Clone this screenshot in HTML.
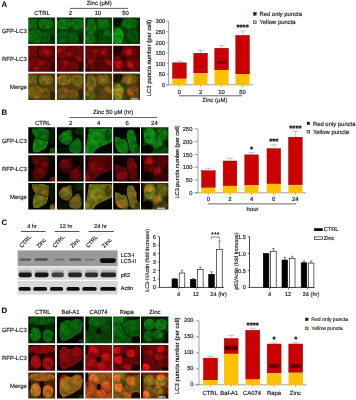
<!DOCTYPE html>
<html><head><meta charset="utf-8"><title>Figure</title>
<style>html,body{margin:0;padding:0;background:#fff;width:356px;height:400px;overflow:hidden}svg{display:block}</style>
</head><body>
<svg width="356" height="400" viewBox="0 0 356 400" font-family="'Liberation Sans', Arial, sans-serif" text-rendering="geometricPrecision"><defs><filter id="t1" x="-20%" y="-20%" width="140%" height="140%" color-interpolation-filters="sRGB"><feGaussianBlur in="SourceGraphic" stdDeviation="0.7" result="b"/><feTurbulence type="fractalNoise" baseFrequency="0.22" numOctaves="2" seed="7" result="n"/><feColorMatrix in="n" type="matrix" values="1 0 0 0 0 1 0 0 0 0 1 0 0 0 0 0 0 0 0 1" result="g"/><feComposite in="b" in2="g" operator="arithmetic" k1="0.7" k2="0.65" k3="0" k4="0"/></filter><filter id="t2" x="-20%" y="-20%" width="140%" height="140%" color-interpolation-filters="sRGB"><feGaussianBlur in="SourceGraphic" stdDeviation="0.7" result="b"/><feTurbulence type="fractalNoise" baseFrequency="0.22" numOctaves="2" seed="14" result="n"/><feColorMatrix in="n" type="matrix" values="1 0 0 0 0 1 0 0 0 0 1 0 0 0 0 0 0 0 0 1" result="g"/><feComposite in="b" in2="g" operator="arithmetic" k1="0.7" k2="0.65" k3="0" k4="0"/></filter><filter id="t3" x="-20%" y="-20%" width="140%" height="140%" color-interpolation-filters="sRGB"><feGaussianBlur in="SourceGraphic" stdDeviation="0.7" result="b"/><feTurbulence type="fractalNoise" baseFrequency="0.22" numOctaves="2" seed="21" result="n"/><feColorMatrix in="n" type="matrix" values="1 0 0 0 0 1 0 0 0 0 1 0 0 0 0 0 0 0 0 1" result="g"/><feComposite in="b" in2="g" operator="arithmetic" k1="0.7" k2="0.65" k3="0" k4="0"/></filter><filter id="t4" x="-20%" y="-20%" width="140%" height="140%" color-interpolation-filters="sRGB"><feGaussianBlur in="SourceGraphic" stdDeviation="0.7" result="b"/><feTurbulence type="fractalNoise" baseFrequency="0.22" numOctaves="2" seed="28" result="n"/><feColorMatrix in="n" type="matrix" values="1 0 0 0 0 1 0 0 0 0 1 0 0 0 0 0 0 0 0 1" result="g"/><feComposite in="b" in2="g" operator="arithmetic" k1="0.7" k2="0.65" k3="0" k4="0"/></filter><filter id="t5" x="-20%" y="-20%" width="140%" height="140%" color-interpolation-filters="sRGB"><feGaussianBlur in="SourceGraphic" stdDeviation="0.7" result="b"/><feTurbulence type="fractalNoise" baseFrequency="0.22" numOctaves="2" seed="35" result="n"/><feColorMatrix in="n" type="matrix" values="1 0 0 0 0 1 0 0 0 0 1 0 0 0 0 0 0 0 0 1" result="g"/><feComposite in="b" in2="g" operator="arithmetic" k1="0.7" k2="0.65" k3="0" k4="0"/></filter><filter id="t6" x="-20%" y="-20%" width="140%" height="140%" color-interpolation-filters="sRGB"><feGaussianBlur in="SourceGraphic" stdDeviation="0.7" result="b"/><feTurbulence type="fractalNoise" baseFrequency="0.22" numOctaves="2" seed="42" result="n"/><feColorMatrix in="n" type="matrix" values="1 0 0 0 0 1 0 0 0 0 1 0 0 0 0 0 0 0 0 1" result="g"/><feComposite in="b" in2="g" operator="arithmetic" k1="0.7" k2="0.65" k3="0" k4="0"/></filter><filter id="t7" x="-20%" y="-20%" width="140%" height="140%" color-interpolation-filters="sRGB"><feGaussianBlur in="SourceGraphic" stdDeviation="0.7" result="b"/><feTurbulence type="fractalNoise" baseFrequency="0.22" numOctaves="2" seed="49" result="n"/><feColorMatrix in="n" type="matrix" values="1 0 0 0 0 1 0 0 0 0 1 0 0 0 0 0 0 0 0 1" result="g"/><feComposite in="b" in2="g" operator="arithmetic" k1="0.7" k2="0.65" k3="0" k4="0"/></filter><filter id="t8" x="-20%" y="-20%" width="140%" height="140%" color-interpolation-filters="sRGB"><feGaussianBlur in="SourceGraphic" stdDeviation="0.7" result="b"/><feTurbulence type="fractalNoise" baseFrequency="0.22" numOctaves="2" seed="56" result="n"/><feColorMatrix in="n" type="matrix" values="1 0 0 0 0 1 0 0 0 0 1 0 0 0 0 0 0 0 0 1" result="g"/><feComposite in="b" in2="g" operator="arithmetic" k1="0.7" k2="0.65" k3="0" k4="0"/></filter><filter id="t9" x="-20%" y="-20%" width="140%" height="140%" color-interpolation-filters="sRGB"><feGaussianBlur in="SourceGraphic" stdDeviation="0.7" result="b"/><feTurbulence type="fractalNoise" baseFrequency="0.22" numOctaves="2" seed="63" result="n"/><feColorMatrix in="n" type="matrix" values="1 0 0 0 0 1 0 0 0 0 1 0 0 0 0 0 0 0 0 1" result="g"/><feComposite in="b" in2="g" operator="arithmetic" k1="0.7" k2="0.65" k3="0" k4="0"/></filter><filter id="t10" x="-20%" y="-20%" width="140%" height="140%" color-interpolation-filters="sRGB"><feGaussianBlur in="SourceGraphic" stdDeviation="0.7" result="b"/><feTurbulence type="fractalNoise" baseFrequency="0.22" numOctaves="2" seed="70" result="n"/><feColorMatrix in="n" type="matrix" values="1 0 0 0 0 1 0 0 0 0 1 0 0 0 0 0 0 0 0 1" result="g"/><feComposite in="b" in2="g" operator="arithmetic" k1="0.7" k2="0.65" k3="0" k4="0"/></filter><filter id="t11" x="-20%" y="-20%" width="140%" height="140%" color-interpolation-filters="sRGB"><feGaussianBlur in="SourceGraphic" stdDeviation="0.7" result="b"/><feTurbulence type="fractalNoise" baseFrequency="0.22" numOctaves="2" seed="77" result="n"/><feColorMatrix in="n" type="matrix" values="1 0 0 0 0 1 0 0 0 0 1 0 0 0 0 0 0 0 0 1" result="g"/><feComposite in="b" in2="g" operator="arithmetic" k1="0.7" k2="0.65" k3="0" k4="0"/></filter><filter id="t12" x="-20%" y="-20%" width="140%" height="140%" color-interpolation-filters="sRGB"><feGaussianBlur in="SourceGraphic" stdDeviation="0.7" result="b"/><feTurbulence type="fractalNoise" baseFrequency="0.22" numOctaves="2" seed="84" result="n"/><feColorMatrix in="n" type="matrix" values="1 0 0 0 0 1 0 0 0 0 1 0 0 0 0 0 0 0 0 1" result="g"/><feComposite in="b" in2="g" operator="arithmetic" k1="0.7" k2="0.65" k3="0" k4="0"/></filter><filter id="t13" x="-20%" y="-20%" width="140%" height="140%" color-interpolation-filters="sRGB"><feGaussianBlur in="SourceGraphic" stdDeviation="0.7" result="b"/><feTurbulence type="fractalNoise" baseFrequency="0.22" numOctaves="2" seed="91" result="n"/><feColorMatrix in="n" type="matrix" values="1 0 0 0 0 1 0 0 0 0 1 0 0 0 0 0 0 0 0 1" result="g"/><feComposite in="b" in2="g" operator="arithmetic" k1="0.7" k2="0.65" k3="0" k4="0"/></filter><filter id="t14" x="-20%" y="-20%" width="140%" height="140%" color-interpolation-filters="sRGB"><feGaussianBlur in="SourceGraphic" stdDeviation="0.7" result="b"/><feTurbulence type="fractalNoise" baseFrequency="0.22" numOctaves="2" seed="98" result="n"/><feColorMatrix in="n" type="matrix" values="1 0 0 0 0 1 0 0 0 0 1 0 0 0 0 0 0 0 0 1" result="g"/><feComposite in="b" in2="g" operator="arithmetic" k1="0.7" k2="0.65" k3="0" k4="0"/></filter><clipPath id="c1"><rect width="26.80" height="26.50"/></clipPath><clipPath id="c2"><rect width="26.80" height="26.50"/></clipPath><clipPath id="c3"><rect width="26.80" height="26.50"/></clipPath><clipPath id="c4"><rect width="26.80" height="26.50"/></clipPath><clipPath id="c5"><rect width="26.80" height="25.90"/></clipPath><clipPath id="c6"><rect width="26.80" height="25.90"/></clipPath><clipPath id="c7"><rect width="26.80" height="25.90"/></clipPath><clipPath id="c8"><rect width="26.80" height="25.90"/></clipPath><clipPath id="c9"><rect width="26.80" height="26.50"/></clipPath><clipPath id="c10"><rect width="26.80" height="26.50"/></clipPath><clipPath id="c11"><rect width="26.80" height="26.50"/></clipPath><clipPath id="c12"><rect width="26.80" height="26.50"/></clipPath><clipPath id="c13"><rect width="26.80" height="26.30"/></clipPath><clipPath id="c14"><rect width="26.80" height="26.30"/></clipPath><clipPath id="c15"><rect width="26.80" height="26.30"/></clipPath><clipPath id="c16"><rect width="26.80" height="26.30"/></clipPath><clipPath id="c17"><rect width="27.40" height="26.30"/></clipPath><clipPath id="c18"><rect width="26.80" height="26.30"/></clipPath><clipPath id="c19"><rect width="26.80" height="26.30"/></clipPath><clipPath id="c20"><rect width="26.80" height="26.30"/></clipPath><clipPath id="c21"><rect width="26.80" height="26.30"/></clipPath><clipPath id="c22"><rect width="27.40" height="26.30"/></clipPath><clipPath id="c23"><rect width="26.80" height="26.40"/></clipPath><clipPath id="c24"><rect width="26.80" height="26.40"/></clipPath><clipPath id="c25"><rect width="26.80" height="26.40"/></clipPath><clipPath id="c26"><rect width="26.80" height="26.40"/></clipPath><clipPath id="c27"><rect width="27.40" height="26.40"/></clipPath><clipPath id="c28"><rect width="26.80" height="26.80"/></clipPath><clipPath id="c29"><rect width="26.80" height="26.80"/></clipPath><clipPath id="c30"><rect width="26.80" height="26.80"/></clipPath><clipPath id="c31"><rect width="26.80" height="26.80"/></clipPath><clipPath id="c32"><rect width="27.40" height="26.80"/></clipPath><clipPath id="c33"><rect width="26.80" height="25.80"/></clipPath><clipPath id="c34"><rect width="26.80" height="25.80"/></clipPath><clipPath id="c35"><rect width="26.80" height="25.80"/></clipPath><clipPath id="c36"><rect width="26.80" height="25.80"/></clipPath><clipPath id="c37"><rect width="27.40" height="25.80"/></clipPath><clipPath id="c38"><rect width="26.80" height="26.00"/></clipPath><clipPath id="c39"><rect width="26.80" height="26.00"/></clipPath><clipPath id="c40"><rect width="26.80" height="26.00"/></clipPath><clipPath id="c41"><rect width="26.80" height="26.00"/></clipPath><clipPath id="c42"><rect width="27.40" height="26.00"/></clipPath><filter id="bb" x="-30%" y="-100%" width="160%" height="300%"><feGaussianBlur stdDeviation="0.75"/></filter></defs><rect width="356" height="400" fill="#fff"/><text transform="translate(1.50,6.90) scale(0.7900)" font-size="10" text-anchor="start" fill="#000" font-weight="bold" >A</text>
<text transform="translate(1.50,114.80) scale(0.7900)" font-size="10" text-anchor="start" fill="#000" font-weight="bold" >B</text>
<text transform="translate(1.50,225.30) scale(0.7900)" font-size="10" text-anchor="start" fill="#000" font-weight="bold" >C</text>
<text transform="translate(1.50,312.70) scale(0.7900)" font-size="10" text-anchor="start" fill="#000" font-weight="bold" >D</text>
<g transform="translate(28.30,17.50)" clip-path="url(#c1)"><g filter="url(#t1)"><rect x="-4" y="-4" width="34.8" height="34.5" fill="rgb(7,65,9)"/><ellipse cx="4.5" cy="6" rx="4.95" ry="6.05" fill="rgb(10,97,13)"/><ellipse cx="17" cy="6" rx="7.7" ry="5.5" fill="rgb(11,105,14)"/><ellipse cx="7" cy="19" rx="7.7" ry="7.15" fill="rgb(10,99,13)"/><ellipse cx="17" cy="19.5" rx="4.95" ry="4.95" fill="rgb(9,86,12)"/><ellipse cx="24.5" cy="22" rx="2.5" ry="5" fill="rgb(4,40,5)"/><polyline points="10,2 9.5,8.5 11.5,11" fill="none" stroke="rgb(3,32,4)" stroke-width="1.1" stroke-linecap="round" stroke-linejoin="round"/><ellipse cx="13.5" cy="0.3" rx="13" ry="1.2" fill="rgb(3,32,4)"/></g></g>
<g transform="translate(56.90,17.50)" clip-path="url(#c2)"><g filter="url(#t2)"><rect x="-4" y="-4" width="34.8" height="34.5" fill="rgb(7,64,8)"/><ellipse cx="7" cy="6" rx="7.7" ry="6.05" fill="rgb(12,113,15)"/><ellipse cx="20.5" cy="6.5" rx="6.05" ry="6.05" fill="rgb(11,108,15)"/><ellipse cx="6" cy="19.5" rx="6.05" ry="6.05" fill="rgb(9,89,12)"/><ellipse cx="16" cy="20.5" rx="5.5" ry="5.5" fill="rgb(9,88,12)"/><ellipse cx="24.5" cy="20" rx="2.5" ry="6" fill="rgb(4,38,5)"/><ellipse cx="1" cy="1" rx="2.5" ry="2" fill="rgb(3,28,3)"/><ellipse cx="13.5" cy="0.3" rx="13" ry="1.2" fill="rgb(3,36,5)"/></g></g>
<g transform="translate(85.30,17.50)" clip-path="url(#c3)"><g filter="url(#t3)"><rect x="-4" y="-4" width="34.8" height="34.5" fill="rgb(7,64,8)"/><ellipse cx="5.5" cy="9" rx="5.5" ry="7.7" fill="rgb(11,108,15)"/><ellipse cx="18" cy="6" rx="6.6" ry="5.5" fill="rgb(11,105,14)"/><ellipse cx="22.5" cy="16" rx="4.4" ry="4.4" fill="rgb(10,96,13)"/><ellipse cx="5" cy="21.5" rx="4.95" ry="4.95" fill="rgb(11,104,14)"/><ellipse cx="17" cy="22" rx="5.5" ry="4.4" fill="rgb(8,76,10)"/><polyline points="12.3,13 12.8,19 12,26" fill="none" stroke="rgb(3,36,5)" stroke-width="1.0" stroke-linecap="round" stroke-linejoin="round"/><ellipse cx="0.5" cy="5" rx="1.5" ry="5" fill="rgb(3,28,3)"/><ellipse cx="13.5" cy="0.3" rx="13" ry="1.2" fill="rgb(3,36,5)"/></g></g>
<g transform="translate(113.20,17.50)" clip-path="url(#c4)"><g filter="url(#t4)"><rect x="-4" y="-4" width="34.8" height="34.5" fill="rgb(6,57,8)"/><ellipse cx="16" cy="6" rx="8.8" ry="4.95" fill="rgb(11,100,14)"/><ellipse cx="20" cy="19" rx="6.6" ry="7.15" fill="rgb(8,76,10)"/><ellipse cx="5" cy="18.5" rx="5.5" ry="8.8" fill="rgb(15,142,19)"/><ellipse cx="3.5" cy="3.5" rx="6" ry="5.5" fill="rgb(2,24,3)"/><ellipse cx="26.2" cy="14" rx="1.2" ry="10" fill="rgb(3,28,3)"/></g></g>
<g transform="translate(28.30,45.80)" clip-path="url(#c5)"><g filter="url(#t1)"><rect x="-4" y="-4" width="34.8" height="33.9" fill="rgb(80,5,7)"/><ellipse cx="4.5" cy="6" rx="4.95" ry="6.05" fill="rgb(110,7,9)"/><ellipse cx="17" cy="6" rx="7.7" ry="5.5" fill="rgb(114,8,10)"/><ellipse cx="7" cy="19" rx="7.7" ry="7.15" fill="rgb(112,7,10)"/><ellipse cx="17" cy="19.5" rx="4.95" ry="4.95" fill="rgb(103,7,9)"/><ellipse cx="24.5" cy="22" rx="2.5" ry="5" fill="rgb(52,3,4)"/><ellipse cx="18" cy="6" rx="3" ry="2.5" fill="rgb(158,11,14)"/><ellipse cx="12.4" cy="17.5" rx="3" ry="2.5" fill="rgb(149,10,13)"/><ellipse cx="7.7" cy="22.7" rx="2.5" ry="2" fill="rgb(145,10,13)"/><polyline points="10,2 9.5,8.5 11.5,11" fill="none" stroke="rgb(44,3,3)" stroke-width="1.1" stroke-linecap="round" stroke-linejoin="round"/></g></g>
<g transform="translate(56.90,45.80)" clip-path="url(#c6)"><g filter="url(#t2)"><rect x="-4" y="-4" width="34.8" height="33.9" fill="rgb(79,5,7)"/><ellipse cx="7" cy="6" rx="7.7" ry="6.05" fill="rgb(110,7,9)"/><ellipse cx="20.5" cy="6.5" rx="6.05" ry="6.05" fill="rgb(107,7,9)"/><ellipse cx="6" cy="19.5" rx="6.05" ry="6.05" fill="rgb(105,7,9)"/><ellipse cx="16" cy="20.5" rx="5.5" ry="5.5" fill="rgb(103,7,9)"/><ellipse cx="24.5" cy="20" rx="2.5" ry="6" fill="rgb(48,3,4)"/><ellipse cx="2.5" cy="5" rx="2.5" ry="2.5" fill="rgb(167,11,15)"/><ellipse cx="12" cy="8.4" rx="2.5" ry="2.5" fill="rgb(145,10,13)"/><ellipse cx="9.4" cy="18" rx="3" ry="3" fill="rgb(154,10,13)"/><ellipse cx="22.4" cy="12.6" rx="3" ry="3" fill="rgb(140,9,12)"/></g></g>
<g transform="translate(85.30,45.80)" clip-path="url(#c7)"><g filter="url(#t3)"><rect x="-4" y="-4" width="34.8" height="33.9" fill="rgb(77,5,6)"/><ellipse cx="5.5" cy="9" rx="5.5" ry="7.7" fill="rgb(103,7,9)"/><ellipse cx="18" cy="6" rx="6.6" ry="5.5" fill="rgb(103,7,9)"/><ellipse cx="22.5" cy="16" rx="4.4" ry="4.4" fill="rgb(103,7,9)"/><ellipse cx="5" cy="21.5" rx="4.95" ry="4.95" fill="rgb(101,7,9)"/><ellipse cx="17" cy="22" rx="5.5" ry="4.4" fill="rgb(92,6,8)"/><ellipse cx="10.3" cy="5.5" rx="2.5" ry="2.5" fill="rgb(158,11,14)"/><ellipse cx="17.9" cy="7" rx="2.5" ry="2.5" fill="rgb(151,10,13)"/><ellipse cx="24" cy="17.5" rx="2.5" ry="3" fill="rgb(165,11,14)"/><ellipse cx="5.5" cy="15.6" rx="3" ry="2.5" fill="rgb(136,9,12)"/><ellipse cx="2" cy="24.5" rx="3.5" ry="2.5" fill="rgb(48,3,4)"/></g></g>
<g transform="translate(113.20,45.80)" clip-path="url(#c8)"><g filter="url(#t4)"><rect x="-4" y="-4" width="34.8" height="33.9" fill="rgb(74,5,6)"/><ellipse cx="16" cy="6" rx="8.8" ry="4.95" fill="rgb(107,7,9)"/><ellipse cx="20" cy="19" rx="6.6" ry="7.15" fill="rgb(101,7,9)"/><ellipse cx="5" cy="18.5" rx="5.5" ry="8.8" fill="rgb(110,7,9)"/><ellipse cx="3.5" cy="3.5" rx="6" ry="5.5" fill="rgb(30,2,2)"/><ellipse cx="15.8" cy="6.3" rx="3.5" ry="3" fill="rgb(180,12,16)"/><ellipse cx="5.5" cy="18.6" rx="3.5" ry="3.5" fill="rgb(184,12,16)"/><ellipse cx="17.2" cy="18.6" rx="3.5" ry="3.5" fill="rgb(167,11,15)"/><ellipse cx="10" cy="12" rx="2.5" ry="2.5" fill="rgb(48,3,4)"/></g></g>
<g transform="translate(28.30,73.50)" clip-path="url(#c9)"><g style="isolation:isolate"><g filter="url(#t1)"><rect x="-4" y="-4" width="34.8" height="34.5" fill="rgb(6,57,8)"/><ellipse cx="4.5" cy="6" rx="4.95" ry="6.05" fill="rgb(9,85,12)"/><ellipse cx="17" cy="6" rx="7.7" ry="5.5" fill="rgb(10,92,13)"/><ellipse cx="7" cy="19" rx="7.7" ry="7.15" fill="rgb(9,87,12)"/><ellipse cx="17" cy="19.5" rx="4.95" ry="4.95" fill="rgb(8,76,10)"/><ellipse cx="24.5" cy="22" rx="2.5" ry="5" fill="rgb(3,35,4)"/><polyline points="10,2 9.5,8.5 11.5,11" fill="none" stroke="rgb(3,28,3)" stroke-width="1.1" stroke-linecap="round" stroke-linejoin="round"/><ellipse cx="13.5" cy="0.3" rx="13" ry="1.2" fill="rgb(3,28,3)"/></g><g filter="url(#t1)" style="mix-blend-mode:screen"><rect x="-4" y="-4" width="34.8" height="34.5" fill="rgb(74,5,6)"/><ellipse cx="4.5" cy="6" rx="4.95" ry="6.05" fill="rgb(101,7,9)"/><ellipse cx="17" cy="6" rx="7.7" ry="5.5" fill="rgb(105,7,9)"/><ellipse cx="7" cy="19" rx="7.7" ry="7.15" fill="rgb(103,7,9)"/><ellipse cx="17" cy="19.5" rx="4.95" ry="4.95" fill="rgb(95,6,8)"/><ellipse cx="24.5" cy="22" rx="2.5" ry="5" fill="rgb(48,3,4)"/><ellipse cx="18" cy="6" rx="3" ry="2.5" fill="rgb(145,10,13)"/><ellipse cx="12.4" cy="17.5" rx="3" ry="2.5" fill="rgb(137,9,12)"/><ellipse cx="7.7" cy="22.7" rx="2.5" ry="2" fill="rgb(133,9,12)"/><polyline points="10,2 9.5,8.5 11.5,11" fill="none" stroke="rgb(40,2,3)" stroke-width="1.1" stroke-linecap="round" stroke-linejoin="round"/></g></g></g>
<g transform="translate(56.90,73.50)" clip-path="url(#c10)"><g style="isolation:isolate"><g filter="url(#t2)"><rect x="-4" y="-4" width="34.8" height="34.5" fill="rgb(6,56,7)"/><ellipse cx="7" cy="6" rx="7.7" ry="6.05" fill="rgb(10,99,13)"/><ellipse cx="20.5" cy="6.5" rx="6.05" ry="6.05" fill="rgb(10,95,13)"/><ellipse cx="6" cy="19.5" rx="6.05" ry="6.05" fill="rgb(8,78,11)"/><ellipse cx="16" cy="20.5" rx="5.5" ry="5.5" fill="rgb(8,77,10)"/><ellipse cx="24.5" cy="20" rx="2.5" ry="6" fill="rgb(3,33,4)"/><ellipse cx="1" cy="1" rx="2.5" ry="2" fill="rgb(2,24,3)"/><ellipse cx="13.5" cy="0.3" rx="13" ry="1.2" fill="rgb(3,31,4)"/></g><g filter="url(#t2)" style="mix-blend-mode:screen"><rect x="-4" y="-4" width="34.8" height="34.5" fill="rgb(72,5,6)"/><ellipse cx="7" cy="6" rx="7.7" ry="6.05" fill="rgb(101,7,9)"/><ellipse cx="20.5" cy="6.5" rx="6.05" ry="6.05" fill="rgb(98,6,8)"/><ellipse cx="6" cy="19.5" rx="6.05" ry="6.05" fill="rgb(97,6,8)"/><ellipse cx="16" cy="20.5" rx="5.5" ry="5.5" fill="rgb(95,6,8)"/><ellipse cx="24.5" cy="20" rx="2.5" ry="6" fill="rgb(44,3,4)"/><ellipse cx="2.5" cy="5" rx="2.5" ry="2.5" fill="rgb(153,10,13)"/><ellipse cx="12" cy="8.4" rx="2.5" ry="2.5" fill="rgb(133,9,12)"/><ellipse cx="9.4" cy="18" rx="3" ry="3" fill="rgb(141,9,12)"/><ellipse cx="22.4" cy="12.6" rx="3" ry="3" fill="rgb(129,9,11)"/></g></g></g>
<g transform="translate(85.30,73.50)" clip-path="url(#c11)"><g style="isolation:isolate"><g filter="url(#t3)"><rect x="-4" y="-4" width="34.8" height="34.5" fill="rgb(6,56,7)"/><ellipse cx="5.5" cy="9" rx="5.5" ry="7.7" fill="rgb(10,95,13)"/><ellipse cx="18" cy="6" rx="6.6" ry="5.5" fill="rgb(10,92,13)"/><ellipse cx="22.5" cy="16" rx="4.4" ry="4.4" fill="rgb(9,84,11)"/><ellipse cx="5" cy="21.5" rx="4.95" ry="4.95" fill="rgb(10,91,12)"/><ellipse cx="17" cy="22" rx="5.5" ry="4.4" fill="rgb(7,67,9)"/><polyline points="12.3,13 12.8,19 12,26" fill="none" stroke="rgb(3,31,4)" stroke-width="1.0" stroke-linecap="round" stroke-linejoin="round"/><ellipse cx="0.5" cy="5" rx="1.5" ry="5" fill="rgb(2,24,3)"/><ellipse cx="13.5" cy="0.3" rx="13" ry="1.2" fill="rgb(3,31,4)"/></g><g filter="url(#t3)" style="mix-blend-mode:screen"><rect x="-4" y="-4" width="34.8" height="34.5" fill="rgb(71,4,6)"/><ellipse cx="5.5" cy="9" rx="5.5" ry="7.7" fill="rgb(95,6,8)"/><ellipse cx="18" cy="6" rx="6.6" ry="5.5" fill="rgb(95,6,8)"/><ellipse cx="22.5" cy="16" rx="4.4" ry="4.4" fill="rgb(95,6,8)"/><ellipse cx="5" cy="21.5" rx="4.95" ry="4.95" fill="rgb(93,6,8)"/><ellipse cx="17" cy="22" rx="5.5" ry="4.4" fill="rgb(85,5,7)"/><ellipse cx="10.3" cy="5.5" rx="2.5" ry="2.5" fill="rgb(145,10,13)"/><ellipse cx="17.9" cy="7" rx="2.5" ry="2.5" fill="rgb(139,9,12)"/><ellipse cx="24" cy="17.5" rx="2.5" ry="3" fill="rgb(152,10,13)"/><ellipse cx="5.5" cy="15.6" rx="3" ry="2.5" fill="rgb(125,8,11)"/><ellipse cx="2" cy="24.5" rx="3.5" ry="2.5" fill="rgb(44,3,4)"/></g></g></g>
<g transform="translate(113.20,73.50)" clip-path="url(#c12)"><g style="isolation:isolate"><g filter="url(#t4)"><rect x="-4" y="-4" width="34.8" height="34.5" fill="rgb(5,50,7)"/><ellipse cx="16" cy="6" rx="8.8" ry="4.95" fill="rgb(9,88,12)"/><ellipse cx="20" cy="19" rx="6.6" ry="7.15" fill="rgb(7,67,9)"/><ellipse cx="5" cy="18.5" rx="5.5" ry="8.8" fill="rgb(13,125,17)"/><ellipse cx="3.5" cy="3.5" rx="6" ry="5.5" fill="rgb(2,21,2)"/><ellipse cx="26.2" cy="14" rx="1.2" ry="10" fill="rgb(2,24,3)"/></g><g filter="url(#t4)" style="mix-blend-mode:screen"><rect x="-4" y="-4" width="34.8" height="34.5" fill="rgb(68,4,6)"/><ellipse cx="16" cy="6" rx="8.8" ry="4.95" fill="rgb(98,6,8)"/><ellipse cx="20" cy="19" rx="6.6" ry="7.15" fill="rgb(93,6,8)"/><ellipse cx="5" cy="18.5" rx="5.5" ry="8.8" fill="rgb(101,7,9)"/><ellipse cx="3.5" cy="3.5" rx="6" ry="5.5" fill="rgb(28,1,2)"/><ellipse cx="15.8" cy="6.3" rx="3.5" ry="3" fill="rgb(165,11,14)"/><ellipse cx="5.5" cy="18.6" rx="3.5" ry="3.5" fill="rgb(170,11,15)"/><ellipse cx="17.2" cy="18.6" rx="3.5" ry="3.5" fill="rgb(153,10,13)"/><ellipse cx="10" cy="12" rx="2.5" ry="2.5" fill="rgb(44,3,4)"/></g></g></g>
<g transform="translate(28.30,127.30)" clip-path="url(#c13)"><g filter="url(#t5)"><rect x="-4" y="-4" width="34.8" height="34.3" fill="rgb(0,8,1)"/><ellipse cx="23.5" cy="10" rx="2.5" ry="8" fill="rgb(3,28,3)"/><ellipse cx="25" cy="2" rx="3" ry="2.5" fill="rgb(3,32,4)"/><polygon points="3.6,1.3 15.4,0.9 20.9,2.8 20.5,9.9 19.7,15.4 17.8,20.1 13.8,23.3 9.9,24.9 5.2,24.9 4.4,19.4 5.6,13.1 6.8,9.9 4,6" fill="rgb(11,100,14)"/><polygon points="5.6,13.1 7.6,11 19.5,13.5 19.7,15.4 17.8,20.1 13.8,23.3 9.9,24.9 5.2,24.9 4.4,19.4" fill="rgb(13,120,16)"/><polyline points="7.6,10.9 13,12 19.4,13.5" fill="none" stroke="rgb(5,48,6)" stroke-width="0.8" stroke-linecap="round" stroke-linejoin="round"/><polygon points="21.7,21 27,20 27,27 21,27" fill="rgb(9,88,12)"/></g></g>
<g transform="translate(56.90,127.30)" clip-path="url(#c14)"><g filter="url(#t6)"><rect x="-4" y="-4" width="34.8" height="34.3" fill="rgb(1,9,1)"/><ellipse cx="23" cy="4" rx="5" ry="4" fill="rgb(4,40,5)"/><ellipse cx="8" cy="23" rx="7" ry="3.5" fill="rgb(2,22,3)"/><polygon points="2.3,8.4 6.2,4.4 10.9,2.8 14.1,2.1 14.8,6 15.6,11.5 14.1,15.4 10.9,17.8 7,17 3.8,14.7 1.9,11.5" fill="rgb(11,100,14)"/><ellipse cx="8.5" cy="9.1" rx="4" ry="4" fill="rgb(13,120,16)"/><polygon points="12.5,17.8 17.2,13.1 20.3,9.9 22.7,11.5 24.3,15.4 25.1,20.2 23.5,24.9 18.8,26.1 14.1,24.9 12.1,21.7" fill="rgb(11,100,14)"/></g></g>
<g transform="translate(85.30,127.30)" clip-path="url(#c15)"><g filter="url(#t7)"><rect x="-4" y="-4" width="34.8" height="34.3" fill="rgb(0,8,1)"/><polygon points="3.6,1.3 25.7,0.9 26.8,2 26.8,14.6 19.4,17.8 13.9,20.2 9.9,23.3 7.6,26.8 0,26.8 0,20.2 1.3,15.4 2.8,7.6" fill="rgb(13,120,16)"/><ellipse cx="10" cy="10" rx="6" ry="6" fill="rgb(14,136,19)"/><ellipse cx="23" cy="8" rx="3.5" ry="6" fill="rgb(8,76,10)"/></g></g>
<g transform="translate(113.20,127.30)" clip-path="url(#c16)"><g filter="url(#t8)"><rect x="-4" y="-4" width="34.8" height="34.3" fill="rgb(0,8,1)"/><polygon points="2.2,9.1 6.1,9.9 8.5,12.3 11.6,11.5 13.2,13.1 14.8,17.8 15.5,23.3 14,25.7 9.2,25.7 4.5,24.1 2.2,19.4 1.8,13.1" fill="rgb(12,112,15)"/><polygon points="14.8,2.8 18.7,2.1 21,4.4 22.6,9.1 23.4,15.4 25,20.2 23.4,24.9 18.7,25.7 16.7,23.3 15.5,17.8 14,12.3 13.6,6" fill="rgb(12,112,15)"/><polygon points="21.8,19 27,18.6 27,27 21.8,27" fill="rgb(7,72,10)"/></g></g>
<g transform="translate(141.00,127.30)" clip-path="url(#c17)"><g filter="url(#t9)"><rect x="-4" y="-4" width="35.4" height="34.3" fill="rgb(6,60,8)"/><ellipse cx="8.7" cy="8.5" rx="6" ry="8" fill="rgb(14,132,18)"/><ellipse cx="21" cy="7" rx="5.5" ry="6.5" fill="rgb(11,104,14)"/><ellipse cx="16.5" cy="16" rx="5" ry="5.5" fill="rgb(13,120,16)"/><ellipse cx="21.5" cy="23" rx="6" ry="4" fill="rgb(7,64,8)"/><ellipse cx="6.5" cy="22.5" rx="5.5" ry="5" fill="rgb(1,9,1)"/><ellipse cx="1" cy="13" rx="1.5" ry="14" fill="rgb(0,4,0)"/><ellipse cx="26.5" cy="17" rx="1.5" ry="4" fill="rgb(1,16,2)"/></g></g>
<g transform="translate(28.30,155.20)" clip-path="url(#c18)"><g filter="url(#t5)"><rect x="-4" y="-4" width="34.8" height="34.3" fill="rgb(8,0,0)"/><polygon points="3.6,1.3 15.4,0.9 20.9,2.8 20.5,9.9 19.7,15.4 17.8,20.1 13.8,23.3 9.9,24.9 5.2,24.9 4.4,19.4 5.6,13.1 6.8,9.9 4,6" fill="rgb(74,5,6)"/><ellipse cx="16.2" cy="9.2" rx="4" ry="4" fill="rgb(108,7,9)"/><ellipse cx="12.1" cy="16.1" rx="4" ry="4" fill="rgb(97,6,8)"/><ellipse cx="8" cy="6.6" rx="3" ry="3" fill="rgb(89,6,8)"/><polyline points="7.6,10.9 13,12 19.4,13.5" fill="none" stroke="rgb(44,3,4)" stroke-width="0.8" stroke-linecap="round" stroke-linejoin="round"/><ellipse cx="24.5" cy="24.4" rx="2.5" ry="2.5" fill="rgb(142,9,12)"/></g></g>
<g transform="translate(56.90,155.20)" clip-path="url(#c19)"><g filter="url(#t6)"><rect x="-4" y="-4" width="34.8" height="34.3" fill="rgb(11,0,1)"/><polygon points="2.3,8.4 6.2,4.4 10.9,2.8 14.1,2.1 14.8,6 15.6,11.5 14.1,15.4 10.9,17.8 7,17 3.8,14.7 1.9,11.5" fill="rgb(71,4,6)"/><polygon points="12.5,17.8 17.2,13.1 20.3,9.9 22.7,11.5 24.3,15.4 25.1,20.2 23.5,24.9 18.8,26.1 14.1,24.9 12.1,21.7" fill="rgb(71,4,6)"/><ellipse cx="8" cy="8.3" rx="4.5" ry="4.5" fill="rgb(104,7,9)"/><ellipse cx="18.3" cy="18.5" rx="4.5" ry="4.5" fill="rgb(101,7,9)"/></g></g>
<g transform="translate(85.30,155.20)" clip-path="url(#c20)"><g filter="url(#t7)"><rect x="-4" y="-4" width="34.8" height="34.3" fill="rgb(8,0,0)"/><polygon points="3.6,1.3 25.7,0.9 26.8,2 26.8,14.6 19.4,17.8 13.9,20.2 9.9,23.3 7.6,26.8 0,26.8 0,20.2 1.3,15.4 2.8,7.6" fill="rgb(86,6,7)"/><ellipse cx="8.7" cy="10.7" rx="4" ry="4" fill="rgb(123,8,11)"/><ellipse cx="14.9" cy="12.8" rx="3" ry="3" fill="rgb(112,7,10)"/><ellipse cx="2.5" cy="22.4" rx="3" ry="3" fill="rgb(119,8,10)"/><ellipse cx="23" cy="8" rx="3.5" ry="6" fill="rgb(59,4,5)"/></g></g>
<g transform="translate(113.20,155.20)" clip-path="url(#c21)"><g filter="url(#t8)"><rect x="-4" y="-4" width="34.8" height="34.3" fill="rgb(8,0,0)"/><polygon points="2.2,9.1 6.1,9.9 8.5,12.3 11.6,11.5 13.2,13.1 14.8,17.8 15.5,23.3 14,25.7 9.2,25.7 4.5,24.1 2.2,19.4 1.8,13.1" fill="rgb(93,6,8)"/><polygon points="14.8,2.8 18.7,2.1 21,4.4 22.6,9.1 23.4,15.4 25,20.2 23.4,24.9 18.7,25.7 16.7,23.3 15.5,17.8 14,12.3 13.6,6" fill="rgb(89,6,8)"/><ellipse cx="8" cy="20.7" rx="5" ry="4" fill="rgb(123,8,11)"/><ellipse cx="20.4" cy="11.5" rx="3.5" ry="5" fill="rgb(112,7,10)"/><polygon points="21.8,19 27,18.6 27,27 21.8,27" fill="rgb(52,3,4)"/></g></g>
<g transform="translate(141.00,155.20)" clip-path="url(#c22)"><g filter="url(#t9)"><rect x="-4" y="-4" width="35.4" height="34.3" fill="rgb(48,3,4)"/><ellipse cx="8.7" cy="8.5" rx="6" ry="8" fill="rgb(89,6,8)"/><ellipse cx="21" cy="7" rx="5.5" ry="6.5" fill="rgb(78,5,7)"/><ellipse cx="16.5" cy="16" rx="5" ry="5.5" fill="rgb(86,6,7)"/><ellipse cx="21.5" cy="23" rx="6" ry="4" fill="rgb(52,3,4)"/><ellipse cx="8" cy="5.8" rx="3.5" ry="3.5" fill="rgb(157,10,14)"/><ellipse cx="16.2" cy="15.4" rx="3.5" ry="3.5" fill="rgb(145,10,13)"/><ellipse cx="6.5" cy="22.5" rx="5.5" ry="5" fill="rgb(8,0,0)"/><ellipse cx="1" cy="13" rx="1.5" ry="14" fill="rgb(3,0,0)"/></g></g>
<g transform="translate(28.30,183.00)" clip-path="url(#c23)"><g style="isolation:isolate"><g filter="url(#t5)"><rect x="-4" y="-4" width="34.8" height="34.4" fill="rgb(0,6,0)"/><ellipse cx="23.5" cy="10" rx="2.5" ry="8" fill="rgb(2,23,3)"/><ellipse cx="25" cy="2" rx="3" ry="2.5" fill="rgb(2,27,3)"/><polygon points="3.6,1.3 15.4,0.9 20.9,2.8 20.5,9.9 19.7,15.4 17.8,20.1 13.8,23.3 9.9,24.9 5.2,24.9 4.4,19.4 5.6,13.1 6.8,9.9 4,6" fill="rgb(9,85,11)"/><polygon points="5.6,13.1 7.6,11 19.5,13.5 19.7,15.4 17.8,20.1 13.8,23.3 9.9,24.9 5.2,24.9 4.4,19.4" fill="rgb(11,102,14)"/><polyline points="7.6,10.9 13,12 19.4,13.5" fill="none" stroke="rgb(4,40,5)" stroke-width="0.8" stroke-linecap="round" stroke-linejoin="round"/><polygon points="21.7,21 27,20 27,27 21,27" fill="rgb(8,74,10)"/></g><g filter="url(#t5)" style="mix-blend-mode:screen"><rect x="-4" y="-4" width="34.8" height="34.4" fill="rgb(9,0,0)"/><polygon points="3.6,1.3 15.4,0.9 20.9,2.8 20.5,9.9 19.7,15.4 17.8,20.1 13.8,23.3 9.9,24.9 5.2,24.9 4.4,19.4 5.6,13.1 6.8,9.9 4,6" fill="rgb(82,5,7)"/><ellipse cx="16.2" cy="9.2" rx="4" ry="4" fill="rgb(119,8,10)"/><ellipse cx="12.1" cy="16.1" rx="4" ry="4" fill="rgb(106,7,9)"/><ellipse cx="8" cy="6.6" rx="3" ry="3" fill="rgb(98,6,8)"/><polyline points="7.6,10.9 13,12 19.4,13.5" fill="none" stroke="rgb(49,3,4)" stroke-width="0.8" stroke-linecap="round" stroke-linejoin="round"/><ellipse cx="24.5" cy="24.4" rx="2.5" ry="2.5" fill="rgb(156,10,14)"/></g></g></g>
<g transform="translate(56.90,183.00)" clip-path="url(#c24)"><g style="isolation:isolate"><g filter="url(#t6)"><rect x="-4" y="-4" width="34.8" height="34.4" fill="rgb(0,8,1)"/><ellipse cx="23" cy="4" rx="5" ry="4" fill="rgb(3,34,4)"/><ellipse cx="8" cy="23" rx="7" ry="3.5" fill="rgb(2,19,2)"/><polygon points="2.3,8.4 6.2,4.4 10.9,2.8 14.1,2.1 14.8,6 15.6,11.5 14.1,15.4 10.9,17.8 7,17 3.8,14.7 1.9,11.5" fill="rgb(9,85,11)"/><ellipse cx="8.5" cy="9.1" rx="4" ry="4" fill="rgb(11,102,14)"/><polygon points="12.5,17.8 17.2,13.1 20.3,9.9 22.7,11.5 24.3,15.4 25.1,20.2 23.5,24.9 18.8,26.1 14.1,24.9 12.1,21.7" fill="rgb(9,85,11)"/></g><g filter="url(#t6)" style="mix-blend-mode:screen"><rect x="-4" y="-4" width="34.8" height="34.4" fill="rgb(12,0,1)"/><polygon points="2.3,8.4 6.2,4.4 10.9,2.8 14.1,2.1 14.8,6 15.6,11.5 14.1,15.4 10.9,17.8 7,17 3.8,14.7 1.9,11.5" fill="rgb(78,5,7)"/><polygon points="12.5,17.8 17.2,13.1 20.3,9.9 22.7,11.5 24.3,15.4 25.1,20.2 23.5,24.9 18.8,26.1 14.1,24.9 12.1,21.7" fill="rgb(78,5,7)"/><ellipse cx="8" cy="8.3" rx="4.5" ry="4.5" fill="rgb(115,8,10)"/><ellipse cx="18.3" cy="18.5" rx="4.5" ry="4.5" fill="rgb(111,7,10)"/></g></g></g>
<g transform="translate(85.30,183.00)" clip-path="url(#c25)"><g style="isolation:isolate"><g filter="url(#t7)"><rect x="-4" y="-4" width="34.8" height="34.4" fill="rgb(0,6,0)"/><polygon points="3.6,1.3 25.7,0.9 26.8,2 26.8,14.6 19.4,17.8 13.9,20.2 9.9,23.3 7.6,26.8 0,26.8 0,20.2 1.3,15.4 2.8,7.6" fill="rgb(11,102,14)"/><ellipse cx="10" cy="10" rx="6" ry="6" fill="rgb(12,115,16)"/><ellipse cx="23" cy="8" rx="3.5" ry="6" fill="rgb(7,64,9)"/></g><g filter="url(#t7)" style="mix-blend-mode:screen"><rect x="-4" y="-4" width="34.8" height="34.4" fill="rgb(9,0,0)"/><polygon points="3.6,1.3 25.7,0.9 26.8,2 26.8,14.6 19.4,17.8 13.9,20.2 9.9,23.3 7.6,26.8 0,26.8 0,20.2 1.3,15.4 2.8,7.6" fill="rgb(94,6,8)"/><ellipse cx="8.7" cy="10.7" rx="4" ry="4" fill="rgb(135,9,12)"/><ellipse cx="14.9" cy="12.8" rx="3" ry="3" fill="rgb(123,8,11)"/><ellipse cx="2.5" cy="22.4" rx="3" ry="3" fill="rgb(131,9,11)"/><ellipse cx="23" cy="8" rx="3.5" ry="6" fill="rgb(65,4,5)"/></g></g></g>
<g transform="translate(113.20,183.00)" clip-path="url(#c26)"><g style="isolation:isolate"><g filter="url(#t8)"><rect x="-4" y="-4" width="34.8" height="34.4" fill="rgb(0,6,0)"/><polygon points="2.2,9.1 6.1,9.9 8.5,12.3 11.6,11.5 13.2,13.1 14.8,17.8 15.5,23.3 14,25.7 9.2,25.7 4.5,24.1 2.2,19.4 1.8,13.1" fill="rgb(10,95,13)"/><polygon points="14.8,2.8 18.7,2.1 21,4.4 22.6,9.1 23.4,15.4 25,20.2 23.4,24.9 18.7,25.7 16.7,23.3 15.5,17.8 14,12.3 13.6,6" fill="rgb(10,95,13)"/><polygon points="21.8,19 27,18.6 27,27 21.8,27" fill="rgb(6,61,8)"/></g><g filter="url(#t8)" style="mix-blend-mode:screen"><rect x="-4" y="-4" width="34.8" height="34.4" fill="rgb(9,0,0)"/><polygon points="2.2,9.1 6.1,9.9 8.5,12.3 11.6,11.5 13.2,13.1 14.8,17.8 15.5,23.3 14,25.7 9.2,25.7 4.5,24.1 2.2,19.4 1.8,13.1" fill="rgb(102,7,9)"/><polygon points="14.8,2.8 18.7,2.1 21,4.4 22.6,9.1 23.4,15.4 25,20.2 23.4,24.9 18.7,25.7 16.7,23.3 15.5,17.8 14,12.3 13.6,6" fill="rgb(98,6,8)"/><ellipse cx="8" cy="20.7" rx="5" ry="4" fill="rgb(135,9,12)"/><ellipse cx="20.4" cy="11.5" rx="3.5" ry="5" fill="rgb(123,8,11)"/><polygon points="21.8,19 27,18.6 27,27 21.8,27" fill="rgb(57,4,5)"/></g></g></g>
<g transform="translate(141.00,183.00)" clip-path="url(#c27)"><g style="isolation:isolate"><g filter="url(#t9)"><rect x="-4" y="-4" width="35.4" height="34.4" fill="rgb(5,51,7)"/><ellipse cx="8.7" cy="8.5" rx="6" ry="8" fill="rgb(12,112,15)"/><ellipse cx="21" cy="7" rx="5.5" ry="6.5" fill="rgb(9,88,12)"/><ellipse cx="16.5" cy="16" rx="5" ry="5.5" fill="rgb(11,102,14)"/><ellipse cx="21.5" cy="23" rx="6" ry="4" fill="rgb(5,54,7)"/><ellipse cx="6.5" cy="22.5" rx="5.5" ry="5" fill="rgb(0,8,1)"/><ellipse cx="1" cy="13" rx="1.5" ry="14" fill="rgb(0,3,0)"/><ellipse cx="26.5" cy="17" rx="1.5" ry="4" fill="rgb(1,13,1)"/></g><g filter="url(#t9)" style="mix-blend-mode:screen"><rect x="-4" y="-4" width="35.4" height="34.4" fill="rgb(53,3,4)"/><ellipse cx="8.7" cy="8.5" rx="6" ry="8" fill="rgb(98,6,8)"/><ellipse cx="21" cy="7" rx="5.5" ry="6.5" fill="rgb(86,6,7)"/><ellipse cx="16.5" cy="16" rx="5" ry="5.5" fill="rgb(94,6,8)"/><ellipse cx="21.5" cy="23" rx="6" ry="4" fill="rgb(57,4,5)"/><ellipse cx="8" cy="5.8" rx="3.5" ry="3.5" fill="rgb(172,12,15)"/><ellipse cx="16.2" cy="15.4" rx="3.5" ry="3.5" fill="rgb(160,11,14)"/><ellipse cx="6.5" cy="22.5" rx="5.5" ry="5" fill="rgb(9,0,0)"/><ellipse cx="1" cy="13" rx="1.5" ry="14" fill="rgb(4,0,0)"/></g></g></g>
<g transform="translate(28.30,316.50)" clip-path="url(#c28)"><g filter="url(#t10)"><rect x="-4" y="-4" width="34.8" height="34.8" fill="rgb(4,39,5)"/><ellipse cx="14" cy="4.5" rx="13" ry="4" fill="rgb(8,79,11)"/><ellipse cx="5" cy="3" rx="3" ry="2" fill="rgb(10,93,13)"/><ellipse cx="12" cy="4" rx="3" ry="2.5" fill="rgb(9,90,12)"/><ellipse cx="20" cy="4.5" rx="3" ry="2.5" fill="rgb(9,86,12)"/><ellipse cx="7.2" cy="18" rx="5.5" ry="7" fill="rgb(11,108,15)"/><ellipse cx="19.4" cy="19.2" rx="5.5" ry="6.5" fill="rgb(10,93,13)"/><ellipse cx="13.5" cy="12" rx="2.5" ry="3" fill="rgb(1,10,1)"/><polyline points="13.5,10 13.5,26" fill="none" stroke="rgb(1,14,2)" stroke-width="2" stroke-linecap="round" stroke-linejoin="round"/><ellipse cx="1" cy="13" rx="1.5" ry="5" fill="rgb(1,10,1)"/><ellipse cx="26.5" cy="14" rx="1" ry="10" fill="rgb(2,21,3)"/></g></g>
<g transform="translate(56.90,316.50)" clip-path="url(#c29)"><g filter="url(#t11)"><rect x="-4" y="-4" width="34.8" height="34.8" fill="rgb(0,8,1)"/><polygon points="3.2,6.4 8.7,3.6 14.2,4.3 18.4,2.3 23.9,3 26,7.8 23.9,16 17,20.1 11.5,22.9 6,25 2.5,20.1 2.5,13.3" fill="rgb(9,90,12)"/><ellipse cx="7.4" cy="13.3" rx="4" ry="6" fill="rgb(11,108,15)"/><ellipse cx="18" cy="8" rx="4" ry="4" fill="rgb(11,100,14)"/><ellipse cx="24" cy="24.3" rx="2" ry="2" fill="rgb(7,64,9)"/></g></g>
<g transform="translate(85.30,316.50)" clip-path="url(#c30)"><g filter="url(#t12)"><rect x="-4" y="-4" width="34.8" height="34.8" fill="rgb(7,68,9)"/><ellipse cx="1.5" cy="7" rx="2.2" ry="8" fill="rgb(0,7,1)"/><ellipse cx="12" cy="5.5" rx="9" ry="4.5" fill="rgb(10,93,13)"/><ellipse cx="6" cy="20" rx="6" ry="5" fill="rgb(7,68,9)"/><ellipse cx="20" cy="20" rx="5" ry="5" fill="rgb(6,61,8)"/><ellipse cx="13.5" cy="14.5" rx="2.2" ry="3" fill="rgb(0,7,1)"/><polyline points="12.5,15 8,16.5 4,19" fill="none" stroke="rgb(3,32,4)" stroke-width="0.8" stroke-linecap="round" stroke-linejoin="round"/><polyline points="12.5,16 9,21 6,25" fill="none" stroke="rgb(3,36,5)" stroke-width="0.8" stroke-linecap="round" stroke-linejoin="round"/><ellipse cx="26.5" cy="14" rx="1" ry="10" fill="rgb(3,28,4)"/></g></g>
<g transform="translate(113.20,316.50)" clip-path="url(#c31)"><g filter="url(#t13)"><rect x="-4" y="-4" width="34.8" height="34.8" fill="rgb(9,82,11)"/><ellipse cx="6" cy="4" rx="5" ry="3.5" fill="rgb(12,111,15)"/><ellipse cx="5" cy="14" rx="5" ry="7" fill="rgb(10,97,13)"/><ellipse cx="18.5" cy="10" rx="6" ry="7" fill="rgb(9,90,12)"/><polyline points="7.7,7.4 11.6,15.3 15.5,20" fill="none" stroke="rgb(3,28,4)" stroke-width="1.0" stroke-linecap="round" stroke-linejoin="round"/><polyline points="10,6 15.5,2" fill="none" stroke="rgb(3,36,5)" stroke-width="0.8" stroke-linecap="round" stroke-linejoin="round"/><ellipse cx="20" cy="1.2" rx="7" ry="1.8" fill="rgb(1,18,2)"/><ellipse cx="23" cy="23.5" rx="5" ry="4" fill="rgb(1,10,1)"/><ellipse cx="14.5" cy="23" rx="3.5" ry="3" fill="rgb(8,79,11)"/></g></g>
<g transform="translate(141.00,316.50)" clip-path="url(#c32)"><g filter="url(#t14)"><rect x="-4" y="-4" width="35.4" height="34.8" fill="rgb(5,50,7)"/><ellipse cx="8.3" cy="7.8" rx="5.5" ry="5.5" fill="rgb(12,115,16)"/><ellipse cx="20" cy="8" rx="6" ry="5.5" fill="rgb(12,115,16)"/><ellipse cx="17" cy="18" rx="5" ry="4.5" fill="rgb(11,104,14)"/><ellipse cx="7.5" cy="19.5" rx="4.5" ry="6" fill="rgb(9,90,12)"/><ellipse cx="1" cy="14" rx="1.3" ry="13" fill="rgb(1,10,1)"/><ellipse cx="14" cy="1" rx="14" ry="1.3" fill="rgb(2,25,3)"/><ellipse cx="26" cy="21" rx="2" ry="6" fill="rgb(1,14,2)"/><ellipse cx="25" cy="25.5" rx="4" ry="2" fill="rgb(1,10,1)"/></g></g>
<g transform="translate(28.30,344.90)" clip-path="url(#c33)"><g filter="url(#t10)"><rect x="-4" y="-4" width="34.8" height="33.8" fill="rgb(58,4,5)"/><ellipse cx="14" cy="4.5" rx="13" ry="4" fill="rgb(132,9,11)"/><ellipse cx="8" cy="17" rx="5.5" ry="7" fill="rgb(158,11,14)"/><ellipse cx="19.7" cy="18.5" rx="5.5" ry="6.5" fill="rgb(147,10,13)"/><ellipse cx="13.5" cy="12" rx="2.5" ry="3" fill="rgb(15,1,1)"/><polyline points="13.5,10 13.5,26" fill="none" stroke="rgb(21,1,1)" stroke-width="2" stroke-linecap="round" stroke-linejoin="round"/><ellipse cx="1" cy="13" rx="1.5" ry="5" fill="rgb(15,1,1)"/></g></g>
<g transform="translate(56.90,344.90)" clip-path="url(#c34)"><g filter="url(#t11)"><rect x="-4" y="-4" width="34.8" height="33.8" fill="rgb(15,1,1)"/><polygon points="3.2,6.4 8.7,3.6 14.2,4.3 18.4,2.3 23.9,3 26,7.8 23.9,16 17,20.1 11.5,22.9 6,25 2.5,20.1 2.5,13.3" fill="rgb(110,7,9)"/><ellipse cx="7.4" cy="9.7" rx="5" ry="8" fill="rgb(132,9,11)"/><ellipse cx="19.8" cy="6.9" rx="4.5" ry="5.5" fill="rgb(137,9,12)"/></g></g>
<g transform="translate(85.30,344.90)" clip-path="url(#c35)"><g filter="url(#t12)"><rect x="-4" y="-4" width="34.8" height="33.8" fill="rgb(126,8,11)"/><ellipse cx="1" cy="4" rx="2" ry="6" fill="rgb(15,1,1)"/><ellipse cx="8" cy="5.5" rx="4" ry="3.5" fill="rgb(184,12,16)"/><ellipse cx="20.4" cy="12.4" rx="4" ry="4" fill="rgb(174,12,15)"/><ellipse cx="16.2" cy="20.6" rx="4" ry="3.5" fill="rgb(174,12,15)"/><ellipse cx="5.2" cy="17.9" rx="4" ry="4" fill="rgb(158,11,14)"/><ellipse cx="13.5" cy="14.5" rx="2.2" ry="3" fill="rgb(15,1,1)"/></g></g>
<g transform="translate(113.20,344.90)" clip-path="url(#c36)"><g filter="url(#t13)"><rect x="-4" y="-4" width="34.8" height="33.8" fill="rgb(95,6,8)"/><ellipse cx="3.9" cy="5.5" rx="3.5" ry="3.5" fill="rgb(195,13,17)"/><ellipse cx="5.3" cy="15.1" rx="4" ry="4" fill="rgb(205,14,18)"/><ellipse cx="17.7" cy="8.3" rx="4" ry="4" fill="rgb(174,12,15)"/><ellipse cx="15" cy="22" rx="4" ry="3" fill="rgb(163,11,14)"/><ellipse cx="10.8" cy="11" rx="2" ry="3" fill="rgb(36,2,3)"/><ellipse cx="23" cy="23.5" rx="5" ry="4" fill="rgb(21,1,1)"/></g></g>
<g transform="translate(141.00,344.90)" clip-path="url(#c37)"><g filter="url(#t14)"><rect x="-4" y="-4" width="35.4" height="33.8" fill="rgb(95,6,8)"/><ellipse cx="19.7" cy="4.1" rx="3.5" ry="3.5" fill="rgb(205,14,18)"/><ellipse cx="4.5" cy="22" rx="4" ry="3.5" fill="rgb(221,15,19)"/><ellipse cx="8.7" cy="8.3" rx="3.5" ry="3.5" fill="rgb(142,9,12)"/><ellipse cx="18.3" cy="12.4" rx="3.5" ry="3.5" fill="rgb(153,10,13)"/><ellipse cx="25" cy="25" rx="4" ry="3" fill="rgb(21,1,1)"/><ellipse cx="1" cy="14" rx="1.3" ry="13" fill="rgb(15,1,1)"/></g></g>
<g transform="translate(28.30,372.60)" clip-path="url(#c38)"><g style="isolation:isolate"><g filter="url(#t10)"><rect x="-4" y="-4" width="34.8" height="34.0" fill="rgb(4,37,5)"/><ellipse cx="14" cy="4.5" rx="13" ry="4" fill="rgb(8,75,10)"/><ellipse cx="5" cy="3" rx="3" ry="2" fill="rgb(9,88,12)"/><ellipse cx="12" cy="4" rx="3" ry="2.5" fill="rgb(9,85,11)"/><ellipse cx="20" cy="4.5" rx="3" ry="2.5" fill="rgb(9,82,11)"/><ellipse cx="7.2" cy="18" rx="5.5" ry="7" fill="rgb(11,102,14)"/><ellipse cx="19.4" cy="19.2" rx="5.5" ry="6.5" fill="rgb(9,88,12)"/><ellipse cx="13.5" cy="12" rx="2.5" ry="3" fill="rgb(1,10,1)"/><polyline points="13.5,10 13.5,26" fill="none" stroke="rgb(1,13,1)" stroke-width="2" stroke-linecap="round" stroke-linejoin="round"/><ellipse cx="1" cy="13" rx="1.5" ry="5" fill="rgb(1,10,1)"/><ellipse cx="26.5" cy="14" rx="1" ry="10" fill="rgb(2,20,2)"/></g><g filter="url(#t10)" style="mix-blend-mode:screen"><rect x="-4" y="-4" width="34.8" height="34.0" fill="rgb(66,4,6)"/><ellipse cx="14" cy="4.5" rx="13" ry="4" fill="rgb(151,10,13)"/><ellipse cx="8" cy="17" rx="5.5" ry="7" fill="rgb(182,12,16)"/><ellipse cx="19.7" cy="18.5" rx="5.5" ry="6.5" fill="rgb(170,11,15)"/><ellipse cx="13.5" cy="12" rx="2.5" ry="3" fill="rgb(18,1,1)"/><polyline points="13.5,10 13.5,26" fill="none" stroke="rgb(24,1,2)" stroke-width="2" stroke-linecap="round" stroke-linejoin="round"/><ellipse cx="1" cy="13" rx="1.5" ry="5" fill="rgb(18,1,1)"/></g></g></g>
<g transform="translate(56.90,372.60)" clip-path="url(#c39)"><g style="isolation:isolate"><g filter="url(#t11)"><rect x="-4" y="-4" width="34.8" height="34.0" fill="rgb(0,8,1)"/><polygon points="3.2,6.4 8.7,3.6 14.2,4.3 18.4,2.3 23.9,3 26,7.8 23.9,16 17,20.1 11.5,22.9 6,25 2.5,20.1 2.5,13.3" fill="rgb(9,85,11)"/><ellipse cx="7.4" cy="13.3" rx="4" ry="6" fill="rgb(11,102,14)"/><ellipse cx="18" cy="8" rx="4" ry="4" fill="rgb(10,95,13)"/><ellipse cx="24" cy="24.3" rx="2" ry="2" fill="rgb(6,61,8)"/></g><g filter="url(#t11)" style="mix-blend-mode:screen"><rect x="-4" y="-4" width="34.8" height="34.0" fill="rgb(18,1,1)"/><polygon points="3.2,6.4 8.7,3.6 14.2,4.3 18.4,2.3 23.9,3 26,7.8 23.9,16 17,20.1 11.5,22.9 6,25 2.5,20.1 2.5,13.3" fill="rgb(127,8,11)"/><ellipse cx="7.4" cy="9.7" rx="5" ry="8" fill="rgb(151,10,13)"/><ellipse cx="19.8" cy="6.9" rx="4.5" ry="5.5" fill="rgb(157,11,14)"/></g></g></g>
<g transform="translate(85.30,372.60)" clip-path="url(#c40)"><g style="isolation:isolate"><g filter="url(#t12)"><rect x="-4" y="-4" width="34.8" height="34.0" fill="rgb(7,64,9)"/><ellipse cx="1.5" cy="7" rx="2.2" ry="8" fill="rgb(0,6,0)"/><ellipse cx="12" cy="5.5" rx="9" ry="4.5" fill="rgb(9,88,12)"/><ellipse cx="6" cy="20" rx="6" ry="5" fill="rgb(7,64,9)"/><ellipse cx="20" cy="20" rx="5" ry="5" fill="rgb(6,58,8)"/><ellipse cx="13.5" cy="14.5" rx="2.2" ry="3" fill="rgb(0,6,0)"/><polyline points="12.5,15 8,16.5 4,19" fill="none" stroke="rgb(3,30,4)" stroke-width="0.8" stroke-linecap="round" stroke-linejoin="round"/><polyline points="12.5,16 9,21 6,25" fill="none" stroke="rgb(3,34,4)" stroke-width="0.8" stroke-linecap="round" stroke-linejoin="round"/><ellipse cx="26.5" cy="14" rx="1" ry="10" fill="rgb(3,27,3)"/></g><g filter="url(#t12)" style="mix-blend-mode:screen"><rect x="-4" y="-4" width="34.8" height="34.0" fill="rgb(145,10,13)"/><ellipse cx="1" cy="4" rx="2" ry="6" fill="rgb(18,1,1)"/><ellipse cx="8" cy="5.5" rx="4" ry="3.5" fill="rgb(212,14,19)"/><ellipse cx="20.4" cy="12.4" rx="4" ry="4" fill="rgb(200,14,18)"/><ellipse cx="16.2" cy="20.6" rx="4" ry="3.5" fill="rgb(200,14,18)"/><ellipse cx="5.2" cy="17.9" rx="4" ry="4" fill="rgb(182,12,16)"/><ellipse cx="13.5" cy="14.5" rx="2.2" ry="3" fill="rgb(18,1,1)"/></g></g></g>
<g transform="translate(113.20,372.60)" clip-path="url(#c41)"><g style="isolation:isolate"><g filter="url(#t13)"><rect x="-4" y="-4" width="34.8" height="34.0" fill="rgb(8,78,11)"/><ellipse cx="6" cy="4" rx="5" ry="3.5" fill="rgb(11,106,14)"/><ellipse cx="5" cy="14" rx="5" ry="7" fill="rgb(10,92,12)"/><ellipse cx="18.5" cy="10" rx="6" ry="7" fill="rgb(9,85,11)"/><polyline points="7.7,7.4 11.6,15.3 15.5,20" fill="none" stroke="rgb(3,27,3)" stroke-width="1.0" stroke-linecap="round" stroke-linejoin="round"/><polyline points="10,6 15.5,2" fill="none" stroke="rgb(3,34,4)" stroke-width="0.8" stroke-linecap="round" stroke-linejoin="round"/><ellipse cx="20" cy="1.2" rx="7" ry="1.8" fill="rgb(1,17,2)"/><ellipse cx="23" cy="23.5" rx="5" ry="4" fill="rgb(1,10,1)"/><ellipse cx="14.5" cy="23" rx="3.5" ry="3" fill="rgb(8,75,10)"/></g><g filter="url(#t13)" style="mix-blend-mode:screen"><rect x="-4" y="-4" width="34.8" height="34.0" fill="rgb(109,7,9)"/><ellipse cx="3.9" cy="5.5" rx="3.5" ry="3.5" fill="rgb(224,15,20)"/><ellipse cx="5.3" cy="15.1" rx="4" ry="4" fill="rgb(236,16,21)"/><ellipse cx="17.7" cy="8.3" rx="4" ry="4" fill="rgb(200,14,18)"/><ellipse cx="15" cy="22" rx="4" ry="3" fill="rgb(188,13,16)"/><ellipse cx="10.8" cy="11" rx="2" ry="3" fill="rgb(42,2,3)"/><ellipse cx="23" cy="23.5" rx="5" ry="4" fill="rgb(24,1,2)"/></g></g></g>
<g transform="translate(141.00,372.60)" clip-path="url(#c42)"><g style="isolation:isolate"><g filter="url(#t14)"><rect x="-4" y="-4" width="35.4" height="34.0" fill="rgb(5,47,6)"/><ellipse cx="8.3" cy="7.8" rx="5.5" ry="5.5" fill="rgb(12,109,15)"/><ellipse cx="20" cy="8" rx="6" ry="5.5" fill="rgb(12,109,15)"/><ellipse cx="17" cy="18" rx="5" ry="4.5" fill="rgb(10,99,13)"/><ellipse cx="7.5" cy="19.5" rx="4.5" ry="6" fill="rgb(9,85,11)"/><ellipse cx="1" cy="14" rx="1.3" ry="13" fill="rgb(1,10,1)"/><ellipse cx="14" cy="1" rx="14" ry="1.3" fill="rgb(2,23,3)"/><ellipse cx="26" cy="21" rx="2" ry="6" fill="rgb(1,13,1)"/><ellipse cx="25" cy="25.5" rx="4" ry="2" fill="rgb(1,10,1)"/></g><g filter="url(#t14)" style="mix-blend-mode:screen"><rect x="-4" y="-4" width="35.4" height="34.0" fill="rgb(109,7,9)"/><ellipse cx="19.7" cy="4.1" rx="3.5" ry="3.5" fill="rgb(236,16,21)"/><ellipse cx="4.5" cy="22" rx="4" ry="3.5" fill="rgb(255,17,22)"/><ellipse cx="8.7" cy="8.3" rx="3.5" ry="3.5" fill="rgb(163,11,14)"/><ellipse cx="18.3" cy="12.4" rx="3.5" ry="3.5" fill="rgb(176,12,15)"/><ellipse cx="25" cy="25" rx="4" ry="3" fill="rgb(24,1,2)"/><ellipse cx="1" cy="14" rx="1.3" ry="13" fill="rgb(18,1,1)"/></g></g></g>
<text transform="translate(26.70,33.05) scale(0.5900)" font-size="10" text-anchor="end" fill="#1a1a1a"  stroke="#1a1a1a" stroke-width="0.28">GFP-LC3</text>
<text transform="translate(26.70,61.05) scale(0.5900)" font-size="10" text-anchor="end" fill="#1a1a1a"  stroke="#1a1a1a" stroke-width="0.28">RFP-LC3</text>
<text transform="translate(26.70,89.05) scale(0.5900)" font-size="10" text-anchor="end" fill="#1a1a1a"  stroke="#1a1a1a" stroke-width="0.28">Merge</text>
<text transform="translate(26.70,142.75) scale(0.5900)" font-size="10" text-anchor="end" fill="#1a1a1a"  stroke="#1a1a1a" stroke-width="0.28">GFP-LC3</text>
<text transform="translate(26.70,170.65) scale(0.5900)" font-size="10" text-anchor="end" fill="#1a1a1a"  stroke="#1a1a1a" stroke-width="0.28">RFP-LC3</text>
<text transform="translate(26.70,198.50) scale(0.5900)" font-size="10" text-anchor="end" fill="#1a1a1a"  stroke="#1a1a1a" stroke-width="0.28">Merge</text>
<text transform="translate(26.70,332.20) scale(0.5900)" font-size="10" text-anchor="end" fill="#1a1a1a"  stroke="#1a1a1a" stroke-width="0.28">GFP-LC3</text>
<text transform="translate(26.70,360.10) scale(0.5900)" font-size="10" text-anchor="end" fill="#1a1a1a"  stroke="#1a1a1a" stroke-width="0.28">RFP-LC3</text>
<text transform="translate(26.70,387.90) scale(0.5900)" font-size="10" text-anchor="end" fill="#1a1a1a"  stroke="#1a1a1a" stroke-width="0.28">Merge</text>
<rect x="130.30" y="98.50" width="8.00" height="1.00" fill="#f4f4f4" />
<rect x="157.00" y="207.70" width="8.00" height="1.00" fill="#f4f4f4" />
<rect x="157.80" y="396.50" width="8.00" height="1.00" fill="#f4f4f4" />
<text transform="translate(99.20,5.00) scale(0.5900)" font-size="10" text-anchor="middle" fill="#1a1a1a"  stroke="#1a1a1a" stroke-width="0.28">Zinc (µM)</text>
<line x1="70.00" y1="8.40" x2="128.00" y2="8.40" stroke="#666" stroke-width="1.0"/>
<text transform="translate(42.00,15.40) scale(0.5900)" font-size="10" text-anchor="middle" fill="#1a1a1a"  stroke="#1a1a1a" stroke-width="0.28">CTRL</text>
<text transform="translate(70.50,15.40) scale(0.5900)" font-size="10" text-anchor="middle" fill="#1a1a1a"  stroke="#1a1a1a" stroke-width="0.28">2</text>
<text transform="translate(98.00,15.40) scale(0.5900)" font-size="10" text-anchor="middle" fill="#1a1a1a"  stroke="#1a1a1a" stroke-width="0.28">10</text>
<text transform="translate(125.60,15.40) scale(0.5900)" font-size="10" text-anchor="middle" fill="#1a1a1a"  stroke="#1a1a1a" stroke-width="0.28">50</text>
<text transform="translate(113.20,114.00) scale(0.5900)" font-size="10" text-anchor="middle" fill="#1a1a1a"  stroke="#1a1a1a" stroke-width="0.28">Zinc 50 µM (hr)</text>
<line x1="69.40" y1="117.50" x2="157.20" y2="117.50" stroke="#666" stroke-width="1.0"/>
<text transform="translate(42.80,124.90) scale(0.5900)" font-size="10" text-anchor="middle" fill="#1a1a1a"  stroke="#1a1a1a" stroke-width="0.28">CTRL</text>
<text transform="translate(70.60,124.90) scale(0.5900)" font-size="10" text-anchor="middle" fill="#1a1a1a"  stroke="#1a1a1a" stroke-width="0.28">2</text>
<text transform="translate(98.60,124.90) scale(0.5900)" font-size="10" text-anchor="middle" fill="#1a1a1a"  stroke="#1a1a1a" stroke-width="0.28">4</text>
<text transform="translate(127.20,124.90) scale(0.5900)" font-size="10" text-anchor="middle" fill="#1a1a1a"  stroke="#1a1a1a" stroke-width="0.28">6</text>
<text transform="translate(154.40,124.90) scale(0.5900)" font-size="10" text-anchor="middle" fill="#1a1a1a"  stroke="#1a1a1a" stroke-width="0.28">24</text>
<text transform="translate(42.80,313.80) scale(0.5900)" font-size="10" text-anchor="middle" fill="#1a1a1a"  stroke="#1a1a1a" stroke-width="0.28">CTRL</text>
<text transform="translate(70.50,313.80) scale(0.5900)" font-size="10" text-anchor="middle" fill="#1a1a1a"  stroke="#1a1a1a" stroke-width="0.28">Baf-A1</text>
<text transform="translate(98.60,313.80) scale(0.5900)" font-size="10" text-anchor="middle" fill="#1a1a1a"  stroke="#1a1a1a" stroke-width="0.28">CA074</text>
<text transform="translate(126.80,313.80) scale(0.5900)" font-size="10" text-anchor="middle" fill="#1a1a1a"  stroke="#1a1a1a" stroke-width="0.28">Rapa</text>
<text transform="translate(154.80,313.80) scale(0.5900)" font-size="10" text-anchor="middle" fill="#1a1a1a"  stroke="#1a1a1a" stroke-width="0.28">Zinc</text>
<line x1="168.60" y1="21.20" x2="168.60" y2="84.80" stroke="#7f8a95" stroke-width="0.8"/>
<line x1="166.40" y1="84.80" x2="253.00" y2="84.80" stroke="#7f8a95" stroke-width="0.8"/>
<line x1="166.40" y1="84.80" x2="168.60" y2="84.80" stroke="#6a7178" stroke-width="0.7"/>
<text transform="translate(165.30,86.90) scale(0.5800)" font-size="10" text-anchor="end" fill="#1a1a1a"  stroke="#1a1a1a" stroke-width="0.28">0</text>
<line x1="166.40" y1="74.20" x2="168.60" y2="74.20" stroke="#6a7178" stroke-width="0.7"/>
<text transform="translate(165.30,76.30) scale(0.5800)" font-size="10" text-anchor="end" fill="#1a1a1a"  stroke="#1a1a1a" stroke-width="0.28">50</text>
<line x1="166.40" y1="63.60" x2="168.60" y2="63.60" stroke="#6a7178" stroke-width="0.7"/>
<text transform="translate(165.30,65.70) scale(0.5800)" font-size="10" text-anchor="end" fill="#1a1a1a"  stroke="#1a1a1a" stroke-width="0.28">100</text>
<line x1="166.40" y1="53.00" x2="168.60" y2="53.00" stroke="#6a7178" stroke-width="0.7"/>
<text transform="translate(165.30,55.10) scale(0.5800)" font-size="10" text-anchor="end" fill="#1a1a1a"  stroke="#1a1a1a" stroke-width="0.28">150</text>
<line x1="166.40" y1="42.40" x2="168.60" y2="42.40" stroke="#6a7178" stroke-width="0.7"/>
<text transform="translate(165.30,44.50) scale(0.5800)" font-size="10" text-anchor="end" fill="#1a1a1a"  stroke="#1a1a1a" stroke-width="0.28">200</text>
<line x1="166.40" y1="31.80" x2="168.60" y2="31.80" stroke="#6a7178" stroke-width="0.7"/>
<text transform="translate(165.30,33.90) scale(0.5800)" font-size="10" text-anchor="end" fill="#1a1a1a"  stroke="#1a1a1a" stroke-width="0.28">250</text>
<line x1="166.40" y1="21.20" x2="168.60" y2="21.20" stroke="#6a7178" stroke-width="0.7"/>
<text transform="translate(165.30,23.30) scale(0.5800)" font-size="10" text-anchor="end" fill="#1a1a1a"  stroke="#1a1a1a" stroke-width="0.28">300</text>
<rect x="172.60" y="62.85" width="13.60" height="15.81" fill="#cc0000" stroke="#8a0000" stroke-width="0.5"/>
<rect x="172.40" y="78.65" width="14.00" height="6.15" fill="#ffc000" />
<line x1="179.40" y1="61.06" x2="179.40" y2="62.65" stroke="#9aa0aa" stroke-width="0.6"/>
<line x1="176.20" y1="61.06" x2="182.60" y2="61.06" stroke="#9aa0aa" stroke-width="0.6"/>
<line x1="179.40" y1="84.80" x2="179.40" y2="87.00" stroke="#7f8a95" stroke-width="0.6"/>
<rect x="193.80" y="53.20" width="13.60" height="19.83" fill="#cc0000" stroke="#8a0000" stroke-width="0.5"/>
<rect x="193.60" y="73.03" width="14.00" height="11.77" fill="#ffc000" />
<line x1="200.60" y1="50.46" x2="200.60" y2="53.00" stroke="#9aa0aa" stroke-width="0.6"/>
<line x1="197.40" y1="50.46" x2="203.80" y2="50.46" stroke="#9aa0aa" stroke-width="0.6"/>
<line x1="200.60" y1="84.80" x2="200.60" y2="87.00" stroke="#7f8a95" stroke-width="0.6"/>
<text transform="translate(200.60,69.57) scale(0.7000)" font-size="10" text-anchor="middle" fill="#600000" font-weight="bold" stroke="#600000" stroke-width="0.6">*</text>
<rect x="214.80" y="48.22" width="13.60" height="21.74" fill="#cc0000" stroke="#8a0000" stroke-width="0.5"/>
<rect x="214.60" y="69.96" width="14.00" height="14.84" fill="#ffc000" />
<line x1="221.60" y1="45.58" x2="221.60" y2="48.02" stroke="#9aa0aa" stroke-width="0.6"/>
<line x1="218.40" y1="45.58" x2="224.80" y2="45.58" stroke="#9aa0aa" stroke-width="0.6"/>
<line x1="221.60" y1="84.80" x2="221.60" y2="87.00" stroke="#7f8a95" stroke-width="0.6"/>
<text transform="translate(221.60,65.77) scale(0.7000)" font-size="10" text-anchor="middle" fill="#600000" font-weight="bold" stroke="#600000" stroke-width="0.6">***</text>
<rect x="235.80" y="35.39" width="13.60" height="38.60" fill="#cc0000" stroke="#8a0000" stroke-width="0.5"/>
<rect x="235.60" y="73.99" width="14.00" height="10.81" fill="#ffc000" />
<line x1="242.60" y1="30.95" x2="242.60" y2="35.19" stroke="#9aa0aa" stroke-width="0.6"/>
<line x1="239.40" y1="30.95" x2="245.80" y2="30.95" stroke="#9aa0aa" stroke-width="0.6"/>
<line x1="242.60" y1="84.80" x2="242.60" y2="87.00" stroke="#7f8a95" stroke-width="0.6"/>
<text transform="translate(242.60,30.35) scale(0.8000)" font-size="10" text-anchor="middle" fill="#111" font-weight="bold" stroke="#111" stroke-width="0.3">****</text>
<text transform="translate(150.60,58.00) rotate(-90) scale(0.5900)" font-size="10" text-anchor="middle" fill="#1a1a1a"  stroke="#1a1a1a" stroke-width="0.28">LC3 puncta number (per cell)</text>
<text transform="translate(179.30,93.60) scale(0.5900)" font-size="10" text-anchor="middle" fill="#1a1a1a"  stroke="#1a1a1a" stroke-width="0.28">0</text>
<text transform="translate(200.60,93.60) scale(0.5900)" font-size="10" text-anchor="middle" fill="#1a1a1a"  stroke="#1a1a1a" stroke-width="0.28">2</text>
<text transform="translate(221.60,93.60) scale(0.5900)" font-size="10" text-anchor="middle" fill="#1a1a1a"  stroke="#1a1a1a" stroke-width="0.28">10</text>
<text transform="translate(242.60,93.60) scale(0.5900)" font-size="10" text-anchor="middle" fill="#1a1a1a"  stroke="#1a1a1a" stroke-width="0.28">50</text>
<line x1="179.00" y1="95.80" x2="242.40" y2="95.80" stroke="#666" stroke-width="1.0"/>
<text transform="translate(214.80,102.40) scale(0.5900)" font-size="10" text-anchor="middle" fill="#1a1a1a"  stroke="#1a1a1a" stroke-width="0.28">Zinc (µM)</text>
<rect x="253.60" y="12.60" width="2.60" height="2.60" fill="#5a0010" stroke="#111" stroke-width="0.5"/>
<rect x="253.60" y="20.90" width="2.60" height="2.60" fill="#e8d870" stroke="#222" stroke-width="0.6"/>
<text transform="translate(259.40,16.00) scale(0.5900)" font-size="10" text-anchor="start" fill="#1a1a1a"  stroke="#1a1a1a" stroke-width="0.28">Red only puncta</text>
<text transform="translate(259.40,24.30) scale(0.5900)" font-size="10" text-anchor="start" fill="#1a1a1a"  stroke="#1a1a1a" stroke-width="0.28">Yellow puncta</text>
<line x1="197.90" y1="128.80" x2="197.90" y2="192.80" stroke="#7f8a95" stroke-width="0.8"/>
<line x1="194.60" y1="192.80" x2="306.00" y2="192.80" stroke="#7f8a95" stroke-width="0.8"/>
<line x1="194.60" y1="192.80" x2="197.90" y2="192.80" stroke="#6a7178" stroke-width="0.7"/>
<text transform="translate(192.40,194.90) scale(0.5800)" font-size="10" text-anchor="end" fill="#1a1a1a"  stroke="#1a1a1a" stroke-width="0.28">0</text>
<line x1="194.60" y1="180.00" x2="197.90" y2="180.00" stroke="#6a7178" stroke-width="0.7"/>
<text transform="translate(192.40,182.10) scale(0.5800)" font-size="10" text-anchor="end" fill="#1a1a1a"  stroke="#1a1a1a" stroke-width="0.28">50</text>
<line x1="194.60" y1="167.20" x2="197.90" y2="167.20" stroke="#6a7178" stroke-width="0.7"/>
<text transform="translate(192.40,169.30) scale(0.5800)" font-size="10" text-anchor="end" fill="#1a1a1a"  stroke="#1a1a1a" stroke-width="0.28">100</text>
<line x1="194.60" y1="154.40" x2="197.90" y2="154.40" stroke="#6a7178" stroke-width="0.7"/>
<text transform="translate(192.40,156.50) scale(0.5800)" font-size="10" text-anchor="end" fill="#1a1a1a"  stroke="#1a1a1a" stroke-width="0.28">150</text>
<line x1="194.60" y1="141.60" x2="197.90" y2="141.60" stroke="#6a7178" stroke-width="0.7"/>
<text transform="translate(192.40,143.70) scale(0.5800)" font-size="10" text-anchor="end" fill="#1a1a1a"  stroke="#1a1a1a" stroke-width="0.28">200</text>
<line x1="194.60" y1="128.80" x2="197.90" y2="128.80" stroke="#6a7178" stroke-width="0.7"/>
<text transform="translate(192.40,130.90) scale(0.5800)" font-size="10" text-anchor="end" fill="#1a1a1a"  stroke="#1a1a1a" stroke-width="0.28">250</text>
<rect x="201.60" y="170.73" width="13.60" height="16.95" fill="#cc0000" stroke="#8a0000" stroke-width="0.5"/>
<rect x="201.40" y="187.68" width="14.00" height="5.12" fill="#ffc000" />
<line x1="208.40" y1="168.22" x2="208.40" y2="170.53" stroke="#9aa0aa" stroke-width="0.6"/>
<line x1="205.20" y1="168.22" x2="211.60" y2="168.22" stroke="#9aa0aa" stroke-width="0.6"/>
<line x1="208.40" y1="192.80" x2="208.40" y2="195.00" stroke="#7f8a95" stroke-width="0.6"/>
<rect x="223.20" y="161.00" width="13.60" height="24.89" fill="#cc0000" stroke="#8a0000" stroke-width="0.5"/>
<rect x="223.00" y="185.89" width="14.00" height="6.91" fill="#ffc000" />
<line x1="230.00" y1="158.24" x2="230.00" y2="160.80" stroke="#9aa0aa" stroke-width="0.6"/>
<line x1="226.80" y1="158.24" x2="233.20" y2="158.24" stroke="#9aa0aa" stroke-width="0.6"/>
<line x1="230.00" y1="192.80" x2="230.00" y2="195.00" stroke="#7f8a95" stroke-width="0.6"/>
<rect x="244.80" y="154.86" width="13.60" height="30.26" fill="#cc0000" stroke="#8a0000" stroke-width="0.5"/>
<rect x="244.60" y="185.12" width="14.00" height="7.68" fill="#ffc000" />
<line x1="251.60" y1="152.61" x2="251.60" y2="154.66" stroke="#9aa0aa" stroke-width="0.6"/>
<line x1="248.40" y1="152.61" x2="254.80" y2="152.61" stroke="#9aa0aa" stroke-width="0.6"/>
<line x1="251.60" y1="192.80" x2="251.60" y2="195.00" stroke="#7f8a95" stroke-width="0.6"/>
<text transform="translate(251.60,152.01) scale(0.8000)" font-size="10" text-anchor="middle" fill="#111" font-weight="bold" stroke="#111" stroke-width="0.3">*</text>
<rect x="267.00" y="148.71" width="13.60" height="35.13" fill="#cc0000" stroke="#8a0000" stroke-width="0.5"/>
<rect x="266.80" y="183.84" width="14.00" height="8.96" fill="#ffc000" />
<line x1="273.80" y1="144.67" x2="273.80" y2="148.51" stroke="#9aa0aa" stroke-width="0.6"/>
<line x1="270.60" y1="144.67" x2="277.00" y2="144.67" stroke="#9aa0aa" stroke-width="0.6"/>
<line x1="273.80" y1="192.80" x2="273.80" y2="195.00" stroke="#7f8a95" stroke-width="0.6"/>
<text transform="translate(273.80,144.07) scale(0.8000)" font-size="10" text-anchor="middle" fill="#111" font-weight="bold" stroke="#111" stroke-width="0.3">***</text>
<rect x="288.60" y="137.19" width="13.60" height="47.67" fill="#cc0000" stroke="#8a0000" stroke-width="0.5"/>
<rect x="288.40" y="184.86" width="14.00" height="7.94" fill="#ffc000" />
<line x1="295.40" y1="131.36" x2="295.40" y2="136.99" stroke="#9aa0aa" stroke-width="0.6"/>
<line x1="292.20" y1="131.36" x2="298.60" y2="131.36" stroke="#9aa0aa" stroke-width="0.6"/>
<line x1="295.40" y1="192.80" x2="295.40" y2="195.00" stroke="#7f8a95" stroke-width="0.6"/>
<text transform="translate(295.40,130.76) scale(0.8000)" font-size="10" text-anchor="middle" fill="#111" font-weight="bold" stroke="#111" stroke-width="0.3">****</text>
<text transform="translate(178.60,162.00) rotate(-90) scale(0.5650)" font-size="10" text-anchor="middle" fill="#1a1a1a"  stroke="#1a1a1a" stroke-width="0.28">LC3 puncta number (per cell)</text>
<text transform="translate(208.40,201.30) scale(0.5900)" font-size="10" text-anchor="middle" fill="#1a1a1a"  stroke="#1a1a1a" stroke-width="0.28">0</text>
<text transform="translate(230.00,201.30) scale(0.5900)" font-size="10" text-anchor="middle" fill="#1a1a1a"  stroke="#1a1a1a" stroke-width="0.28">2</text>
<text transform="translate(251.60,201.30) scale(0.5900)" font-size="10" text-anchor="middle" fill="#1a1a1a"  stroke="#1a1a1a" stroke-width="0.28">4</text>
<text transform="translate(273.60,201.30) scale(0.5900)" font-size="10" text-anchor="middle" fill="#1a1a1a"  stroke="#1a1a1a" stroke-width="0.28">6</text>
<text transform="translate(295.30,201.30) scale(0.5900)" font-size="10" text-anchor="middle" fill="#1a1a1a"  stroke="#1a1a1a" stroke-width="0.28">24</text>
<line x1="208.00" y1="203.90" x2="296.30" y2="203.90" stroke="#666" stroke-width="1.0"/>
<text transform="translate(252.50,210.50) scale(0.5900)" font-size="10" text-anchor="middle" fill="#1a1a1a"  stroke="#1a1a1a" stroke-width="0.28">hour</text>
<rect x="307.10" y="122.10" width="2.60" height="2.60" fill="#5a0010" stroke="#111" stroke-width="0.5"/>
<rect x="307.10" y="130.40" width="2.60" height="2.60" fill="#e8d870" stroke="#222" stroke-width="0.6"/>
<text transform="translate(312.90,125.50) scale(0.5900)" font-size="10" text-anchor="start" fill="#1a1a1a"  stroke="#1a1a1a" stroke-width="0.28">Red only puncta</text>
<text transform="translate(312.90,133.80) scale(0.5900)" font-size="10" text-anchor="start" fill="#1a1a1a"  stroke="#1a1a1a" stroke-width="0.28">Yellow puncta</text>
<line x1="199.00" y1="320.80" x2="199.00" y2="384.80" stroke="#7f8a95" stroke-width="0.8"/>
<line x1="195.70" y1="384.80" x2="306.50" y2="384.80" stroke="#7f8a95" stroke-width="0.8"/>
<line x1="195.70" y1="384.80" x2="199.00" y2="384.80" stroke="#6a7178" stroke-width="0.7"/>
<text transform="translate(193.60,386.20) scale(0.5800)" font-size="10" text-anchor="end" fill="#1a1a1a"  stroke="#1a1a1a" stroke-width="0.28">0</text>
<line x1="195.70" y1="368.80" x2="199.00" y2="368.80" stroke="#6a7178" stroke-width="0.7"/>
<text transform="translate(193.60,370.20) scale(0.5800)" font-size="10" text-anchor="end" fill="#1a1a1a"  stroke="#1a1a1a" stroke-width="0.28">50</text>
<line x1="195.70" y1="352.80" x2="199.00" y2="352.80" stroke="#6a7178" stroke-width="0.7"/>
<text transform="translate(193.60,354.20) scale(0.5800)" font-size="10" text-anchor="end" fill="#1a1a1a"  stroke="#1a1a1a" stroke-width="0.28">100</text>
<line x1="195.70" y1="336.80" x2="199.00" y2="336.80" stroke="#6a7178" stroke-width="0.7"/>
<text transform="translate(193.60,338.20) scale(0.5800)" font-size="10" text-anchor="end" fill="#1a1a1a"  stroke="#1a1a1a" stroke-width="0.28">150</text>
<line x1="195.70" y1="320.80" x2="199.00" y2="320.80" stroke="#6a7178" stroke-width="0.7"/>
<text transform="translate(193.60,322.20) scale(0.5800)" font-size="10" text-anchor="end" fill="#1a1a1a"  stroke="#1a1a1a" stroke-width="0.28">200</text>
<rect x="203.50" y="358.12" width="13.90" height="21.88" fill="#cc0000" stroke="#8a0000" stroke-width="0.5"/>
<rect x="203.30" y="380.00" width="14.30" height="4.80" fill="#ffc000" />
<line x1="210.45" y1="356.32" x2="210.45" y2="357.92" stroke="#9aa0aa" stroke-width="0.6"/>
<line x1="207.25" y1="356.32" x2="213.65" y2="356.32" stroke="#9aa0aa" stroke-width="0.6"/>
<line x1="210.45" y1="384.80" x2="210.45" y2="387.00" stroke="#7f8a95" stroke-width="0.6"/>
<rect x="224.20" y="338.60" width="13.90" height="15.16" fill="#cc0000" stroke="#8a0000" stroke-width="0.5"/>
<rect x="224.00" y="353.76" width="14.30" height="31.04" fill="#ffc000" />
<line x1="231.15" y1="335.20" x2="231.15" y2="338.40" stroke="#9aa0aa" stroke-width="0.6"/>
<line x1="227.95" y1="335.20" x2="234.35" y2="335.20" stroke="#9aa0aa" stroke-width="0.6"/>
<line x1="231.15" y1="384.80" x2="231.15" y2="387.00" stroke="#7f8a95" stroke-width="0.6"/>
<text transform="translate(231.15,351.85) scale(0.8000)" font-size="10" text-anchor="middle" fill="#600000" font-weight="bold" stroke="#600000" stroke-width="1.6">****</text>
<rect x="245.80" y="330.28" width="13.90" height="49.08" fill="#cc0000" stroke="#8a0000" stroke-width="0.5"/>
<rect x="245.60" y="379.36" width="14.30" height="5.44" fill="#ffc000" />
<line x1="252.75" y1="328.16" x2="252.75" y2="330.08" stroke="#9aa0aa" stroke-width="0.6"/>
<line x1="249.55" y1="328.16" x2="255.95" y2="328.16" stroke="#9aa0aa" stroke-width="0.6"/>
<line x1="252.75" y1="384.80" x2="252.75" y2="387.00" stroke="#7f8a95" stroke-width="0.6"/>
<text transform="translate(252.75,327.56) scale(0.8000)" font-size="10" text-anchor="middle" fill="#111" font-weight="bold" stroke="#111" stroke-width="0.3">****</text>
<rect x="267.20" y="344.04" width="13.90" height="28.92" fill="#cc0000" stroke="#8a0000" stroke-width="0.5"/>
<rect x="267.00" y="372.96" width="14.30" height="11.84" fill="#ffc000" />
<line x1="274.15" y1="342.88" x2="274.15" y2="343.84" stroke="#9aa0aa" stroke-width="0.6"/>
<line x1="270.95" y1="342.88" x2="277.35" y2="342.88" stroke="#9aa0aa" stroke-width="0.6"/>
<line x1="274.15" y1="384.80" x2="274.15" y2="387.00" stroke="#7f8a95" stroke-width="0.6"/>
<text transform="translate(274.15,342.28) scale(0.8000)" font-size="10" text-anchor="middle" fill="#111" font-weight="bold" stroke="#111" stroke-width="0.3">*</text>
<text transform="translate(274.15,370.45) scale(0.8000)" font-size="10" text-anchor="middle" fill="#600000" font-weight="bold" stroke="#600000" stroke-width="1.6">***</text>
<rect x="288.80" y="344.04" width="13.90" height="28.60" fill="#cc0000" stroke="#8a0000" stroke-width="0.5"/>
<rect x="288.60" y="372.64" width="14.30" height="12.16" fill="#ffc000" />
<line x1="295.75" y1="342.56" x2="295.75" y2="343.84" stroke="#9aa0aa" stroke-width="0.6"/>
<line x1="292.55" y1="342.56" x2="298.95" y2="342.56" stroke="#9aa0aa" stroke-width="0.6"/>
<line x1="295.75" y1="384.80" x2="295.75" y2="387.00" stroke="#7f8a95" stroke-width="0.6"/>
<text transform="translate(295.75,341.96) scale(0.8000)" font-size="10" text-anchor="middle" fill="#111" font-weight="bold" stroke="#111" stroke-width="0.3">*</text>
<text transform="translate(295.75,370.45) scale(0.8000)" font-size="10" text-anchor="middle" fill="#600000" font-weight="bold" stroke="#600000" stroke-width="1.6">***</text>
<text transform="translate(179.00,355.80) rotate(-90) scale(0.5900)" font-size="10" text-anchor="middle" fill="#1a1a1a"  stroke="#1a1a1a" stroke-width="0.28">LC3 puncta number (per cell)</text>
<text transform="translate(210.10,394.80) scale(0.5900)" font-size="10" text-anchor="middle" fill="#1a1a1a"  stroke="#1a1a1a" stroke-width="0.28">CTRL</text>
<text transform="translate(229.30,394.80) scale(0.5900)" font-size="10" text-anchor="middle" fill="#1a1a1a"  stroke="#1a1a1a" stroke-width="0.28">Baf-A1</text>
<text transform="translate(252.00,394.80) scale(0.5900)" font-size="10" text-anchor="middle" fill="#1a1a1a"  stroke="#1a1a1a" stroke-width="0.28">CA074</text>
<text transform="translate(274.00,394.80) scale(0.5900)" font-size="10" text-anchor="middle" fill="#1a1a1a"  stroke="#1a1a1a" stroke-width="0.28">Rapa</text>
<text transform="translate(295.40,394.80) scale(0.5900)" font-size="10" text-anchor="middle" fill="#1a1a1a"  stroke="#1a1a1a" stroke-width="0.28">Zinc</text>
<rect x="305.50" y="318.00" width="2.60" height="2.60" fill="#5a0010" stroke="#111" stroke-width="0.5"/>
<rect x="305.50" y="327.00" width="2.60" height="2.60" fill="#e8d870" stroke="#222" stroke-width="0.6"/>
<text transform="translate(311.30,321.40) scale(0.5100)" font-size="10" text-anchor="start" fill="#1a1a1a"  stroke="#1a1a1a" stroke-width="0.28">Red only puncta</text>
<text transform="translate(311.30,330.40) scale(0.5100)" font-size="10" text-anchor="start" fill="#1a1a1a"  stroke="#1a1a1a" stroke-width="0.28">Yellow puncta</text>
<text transform="translate(32.00,228.40) scale(0.5600)" font-size="10" text-anchor="middle" fill="#1a1a1a"  stroke="#1a1a1a" stroke-width="0.28">4 hr</text>
<line x1="21.00" y1="231.50" x2="45.70" y2="231.50" stroke="#555" stroke-width="1.0"/>
<text transform="translate(66.00,228.40) scale(0.5600)" font-size="10" text-anchor="middle" fill="#1a1a1a"  stroke="#1a1a1a" stroke-width="0.28">12 hr</text>
<line x1="54.70" y1="231.50" x2="79.50" y2="231.50" stroke="#555" stroke-width="1.0"/>
<text transform="translate(100.50,228.40) scale(0.5600)" font-size="10" text-anchor="middle" fill="#1a1a1a"  stroke="#1a1a1a" stroke-width="0.28">24 hr</text>
<line x1="88.60" y1="231.50" x2="113.80" y2="231.50" stroke="#555" stroke-width="1.0"/>
<text transform="translate(21.70,248.30) rotate(-48) scale(0.5700)" font-size="10" text-anchor="start" fill="#1a1a1a"  stroke="#1a1a1a" stroke-width="0.28">CTRL</text>
<text transform="translate(38.90,248.30) rotate(-48) scale(0.5700)" font-size="10" text-anchor="start" fill="#1a1a1a"  stroke="#1a1a1a" stroke-width="0.28">Zinc</text>
<text transform="translate(54.90,248.30) rotate(-48) scale(0.5700)" font-size="10" text-anchor="start" fill="#1a1a1a"  stroke="#1a1a1a" stroke-width="0.28">CTRL</text>
<text transform="translate(72.70,248.30) rotate(-48) scale(0.5700)" font-size="10" text-anchor="start" fill="#1a1a1a"  stroke="#1a1a1a" stroke-width="0.28">Zinc</text>
<text transform="translate(88.20,248.30) rotate(-48) scale(0.5700)" font-size="10" text-anchor="start" fill="#1a1a1a"  stroke="#1a1a1a" stroke-width="0.28">CTRL</text>
<text transform="translate(104.60,248.30) rotate(-48) scale(0.5700)" font-size="10" text-anchor="start" fill="#1a1a1a"  stroke="#1a1a1a" stroke-width="0.28">Zinc</text>
<rect x="17.60" y="250.40" width="100.00" height="15.80" fill="#9a9a9a" />
<rect x="17.60" y="267.20" width="100.00" height="12.50" fill="#d6d6d6" />
<rect x="17.60" y="280.90" width="100.00" height="13.60" fill="#d8d8d8" />
<g filter="url(#bb)"><rect x="19.40" y="258.50" width="11.60" height="2.20" rx="1.10" fill="#5a5a5a"/><rect x="34.70" y="258.35" width="13.10" height="2.50" rx="1.25" fill="#4c4c4c"/><rect x="54.40" y="258.65" width="10.20" height="1.90" rx="0.95" fill="#6e6e6e"/><rect x="68.90" y="258.45" width="12.30" height="2.30" rx="1.15" fill="#545454"/><rect x="85.10" y="258.70" width="10.00" height="1.80" rx="0.90" fill="#747474"/><rect x="99.80" y="258.20" width="16.10" height="4.80" rx="2.40" fill="#0c0c0c"/><rect x="18.30" y="270.10" width="13.80" height="7.00" rx="3.00" fill="#b0b0b0"/><rect x="34.40" y="270.10" width="14.50" height="7.00" rx="3.00" fill="#b0b0b0"/><rect x="51.20" y="270.10" width="13.00" height="7.00" rx="3.00" fill="#b0b0b0"/><rect x="67.80" y="270.10" width="14.50" height="7.00" rx="3.00" fill="#b0b0b0"/><rect x="84.70" y="270.10" width="13.80" height="7.00" rx="3.00" fill="#b0b0b0"/><rect x="100.20" y="270.10" width="16.30" height="7.00" rx="3.00" fill="#b0b0b0"/><rect x="18.60" y="272.60" width="13.20" height="4.60" rx="2.30" fill="#161616"/><rect x="34.70" y="272.60" width="13.90" height="4.60" rx="2.30" fill="#161616"/><rect x="51.50" y="272.60" width="12.40" height="4.60" rx="2.30" fill="#404040"/><rect x="68.10" y="272.60" width="13.90" height="4.60" rx="2.30" fill="#262626"/><rect x="85.00" y="272.60" width="13.20" height="4.60" rx="2.30" fill="#2e2e2e"/><rect x="100.50" y="272.60" width="15.70" height="4.60" rx="2.30" fill="#262626"/><rect x="18.60" y="287.00" width="12.20" height="3.80" rx="1.90" fill="#0c0c0c"/><rect x="33.20" y="287.00" width="13.90" height="3.80" rx="1.90" fill="#0c0c0c"/><rect x="50.00" y="287.00" width="13.20" height="3.80" rx="1.90" fill="#0c0c0c"/><rect x="66.50" y="287.00" width="13.20" height="3.80" rx="1.90" fill="#0c0c0c"/><rect x="82.30" y="287.00" width="14.40" height="3.80" rx="1.90" fill="#0c0c0c"/><rect x="100.20" y="287.00" width="15.80" height="3.80" rx="1.90" fill="#0c0c0c"/></g>
<text transform="translate(120.70,256.80) scale(0.5600)" font-size="10" text-anchor="start" fill="#1a1a1a"  stroke="#1a1a1a" stroke-width="0.28">LC3-I</text>
<text transform="translate(120.70,263.00) scale(0.5600)" font-size="10" text-anchor="start" fill="#1a1a1a"  stroke="#1a1a1a" stroke-width="0.28">LC3-II</text>
<text transform="translate(120.70,276.90) scale(0.5600)" font-size="10" text-anchor="start" fill="#1a1a1a"  stroke="#1a1a1a" stroke-width="0.28">p62</text>
<text transform="translate(120.70,290.40) scale(0.5600)" font-size="10" text-anchor="start" fill="#1a1a1a"  stroke="#1a1a1a" stroke-width="0.28">Actin</text>
<line x1="159.50" y1="236.70" x2="159.50" y2="287.40" stroke="#333" stroke-width="0.9"/>
<line x1="159.50" y1="287.40" x2="224.00" y2="287.40" stroke="#333" stroke-width="0.9"/>
<line x1="157.70" y1="287.40" x2="159.50" y2="287.40" stroke="#333" stroke-width="0.7"/>
<text transform="translate(155.90,289.40) scale(0.5700)" font-size="10" text-anchor="end" fill="#1a1a1a"  stroke="#1a1a1a" stroke-width="0.28">0</text>
<line x1="157.70" y1="278.95" x2="159.50" y2="278.95" stroke="#333" stroke-width="0.7"/>
<text transform="translate(155.90,280.95) scale(0.5700)" font-size="10" text-anchor="end" fill="#1a1a1a"  stroke="#1a1a1a" stroke-width="0.28">1</text>
<line x1="157.70" y1="270.50" x2="159.50" y2="270.50" stroke="#333" stroke-width="0.7"/>
<text transform="translate(155.90,272.50) scale(0.5700)" font-size="10" text-anchor="end" fill="#1a1a1a"  stroke="#1a1a1a" stroke-width="0.28">2</text>
<line x1="157.70" y1="262.05" x2="159.50" y2="262.05" stroke="#333" stroke-width="0.7"/>
<text transform="translate(155.90,264.05) scale(0.5700)" font-size="10" text-anchor="end" fill="#1a1a1a"  stroke="#1a1a1a" stroke-width="0.28">3</text>
<line x1="157.70" y1="253.60" x2="159.50" y2="253.60" stroke="#333" stroke-width="0.7"/>
<text transform="translate(155.90,255.60) scale(0.5700)" font-size="10" text-anchor="end" fill="#1a1a1a"  stroke="#1a1a1a" stroke-width="0.28">4</text>
<line x1="157.70" y1="245.15" x2="159.50" y2="245.15" stroke="#333" stroke-width="0.7"/>
<text transform="translate(155.90,247.15) scale(0.5700)" font-size="10" text-anchor="end" fill="#1a1a1a"  stroke="#1a1a1a" stroke-width="0.28">5</text>
<line x1="157.70" y1="236.70" x2="159.50" y2="236.70" stroke="#333" stroke-width="0.7"/>
<text transform="translate(155.90,238.70) scale(0.5700)" font-size="10" text-anchor="end" fill="#1a1a1a"  stroke="#1a1a1a" stroke-width="0.28">6</text>
<line x1="178.40" y1="287.40" x2="178.40" y2="289.40" stroke="#333" stroke-width="0.7"/>
<line x1="174.80" y1="278.95" x2="174.80" y2="278.95" stroke="#333" stroke-width="0.6"/>
<line x1="173.60" y1="278.95" x2="176.00" y2="278.95" stroke="#333" stroke-width="0.6"/>
<rect x="172.00" y="278.95" width="5.60" height="8.45" fill="#000" stroke="#000" stroke-width="0.6"/>
<line x1="182.00" y1="270.08" x2="182.00" y2="273.03" stroke="#333" stroke-width="0.6"/>
<line x1="180.80" y1="270.08" x2="183.20" y2="270.08" stroke="#333" stroke-width="0.6"/>
<rect x="179.20" y="273.03" width="5.60" height="14.37" fill="#fff" stroke="#000" stroke-width="0.6"/>
<line x1="196.70" y1="287.40" x2="196.70" y2="289.40" stroke="#333" stroke-width="0.7"/>
<line x1="193.10" y1="278.53" x2="193.10" y2="279.37" stroke="#333" stroke-width="0.6"/>
<line x1="191.90" y1="278.53" x2="194.30" y2="278.53" stroke="#333" stroke-width="0.6"/>
<rect x="190.30" y="279.37" width="5.60" height="8.03" fill="#000" stroke="#000" stroke-width="0.6"/>
<line x1="200.30" y1="267.12" x2="200.30" y2="269.65" stroke="#333" stroke-width="0.6"/>
<line x1="199.10" y1="267.12" x2="201.50" y2="267.12" stroke="#333" stroke-width="0.6"/>
<rect x="197.50" y="269.65" width="5.60" height="17.75" fill="#fff" stroke="#000" stroke-width="0.6"/>
<line x1="215.45" y1="287.40" x2="215.45" y2="289.40" stroke="#333" stroke-width="0.7"/>
<line x1="211.50" y1="271.77" x2="211.50" y2="274.30" stroke="#333" stroke-width="0.6"/>
<line x1="210.30" y1="271.77" x2="212.70" y2="271.77" stroke="#333" stroke-width="0.6"/>
<rect x="208.70" y="274.30" width="5.60" height="13.10" fill="#000" stroke="#000" stroke-width="0.6"/>
<line x1="219.40" y1="240.92" x2="219.40" y2="249.37" stroke="#333" stroke-width="0.6"/>
<line x1="218.20" y1="240.92" x2="220.60" y2="240.92" stroke="#333" stroke-width="0.6"/>
<rect x="216.60" y="249.37" width="5.60" height="38.03" fill="#fff" stroke="#000" stroke-width="0.6"/>
<text transform="translate(149.00,260.40) rotate(-90) scale(0.5300)" font-size="10" text-anchor="middle" fill="#1a1a1a"  stroke="#1a1a1a" stroke-width="0.28">LC3-II/Actin (fold increase)</text>
<text transform="translate(178.60,296.30) scale(0.5600)" font-size="10" text-anchor="middle" fill="#1a1a1a"  stroke="#1a1a1a" stroke-width="0.28">4</text>
<text transform="translate(195.80,296.30) scale(0.5600)" font-size="10" text-anchor="middle" fill="#1a1a1a"  stroke="#1a1a1a" stroke-width="0.28">12</text>
<text transform="translate(218.60,296.30) scale(0.5600)" font-size="10" text-anchor="middle" fill="#1a1a1a"  stroke="#1a1a1a" stroke-width="0.28">24 (hr)</text>
<path d="M211.3,239.3 V237.0 H219.2 V239.3" fill="none" stroke="#333" stroke-width="0.6"/>
<text transform="translate(215.30,237.20) scale(0.7200)" font-size="10" text-anchor="middle" fill="#222" font-weight="bold" stroke="none">***</text>
<line x1="249.50" y1="236.70" x2="249.50" y2="287.40" stroke="#333" stroke-width="0.9"/>
<line x1="249.50" y1="287.40" x2="314.50" y2="287.40" stroke="#333" stroke-width="0.9"/>
<line x1="247.70" y1="287.40" x2="249.50" y2="287.40" stroke="#333" stroke-width="0.7"/>
<text transform="translate(245.90,289.40) scale(0.5700)" font-size="10" text-anchor="end" fill="#1a1a1a"  stroke="#1a1a1a" stroke-width="0.28">0</text>
<line x1="247.70" y1="270.50" x2="249.50" y2="270.50" stroke="#333" stroke-width="0.7"/>
<text transform="translate(245.90,272.50) scale(0.5700)" font-size="10" text-anchor="end" fill="#1a1a1a"  stroke="#1a1a1a" stroke-width="0.28">0.5</text>
<line x1="247.70" y1="253.60" x2="249.50" y2="253.60" stroke="#333" stroke-width="0.7"/>
<text transform="translate(245.90,255.60) scale(0.5700)" font-size="10" text-anchor="end" fill="#1a1a1a"  stroke="#1a1a1a" stroke-width="0.28">1.0</text>
<line x1="247.70" y1="236.70" x2="249.50" y2="236.70" stroke="#333" stroke-width="0.7"/>
<text transform="translate(245.90,238.70) scale(0.5700)" font-size="10" text-anchor="end" fill="#1a1a1a"  stroke="#1a1a1a" stroke-width="0.28">1.5</text>
<line x1="269.75" y1="287.40" x2="269.75" y2="289.40" stroke="#333" stroke-width="0.7"/>
<line x1="266.10" y1="253.60" x2="266.10" y2="253.60" stroke="#333" stroke-width="0.6"/>
<line x1="264.90" y1="253.60" x2="267.30" y2="253.60" stroke="#333" stroke-width="0.6"/>
<rect x="263.30" y="253.60" width="5.60" height="33.80" fill="#000" stroke="#000" stroke-width="0.6"/>
<line x1="273.40" y1="248.53" x2="273.40" y2="251.23" stroke="#333" stroke-width="0.6"/>
<line x1="272.20" y1="248.53" x2="274.60" y2="248.53" stroke="#333" stroke-width="0.6"/>
<rect x="270.60" y="251.23" width="5.60" height="36.17" fill="#fff" stroke="#000" stroke-width="0.6"/>
<line x1="288.50" y1="287.40" x2="288.50" y2="289.40" stroke="#333" stroke-width="0.7"/>
<line x1="284.80" y1="257.32" x2="284.80" y2="260.02" stroke="#333" stroke-width="0.6"/>
<line x1="283.60" y1="257.32" x2="286.00" y2="257.32" stroke="#333" stroke-width="0.6"/>
<rect x="282.00" y="260.02" width="5.60" height="27.38" fill="#000" stroke="#000" stroke-width="0.6"/>
<line x1="292.20" y1="256.30" x2="292.20" y2="258.33" stroke="#333" stroke-width="0.6"/>
<line x1="291.00" y1="256.30" x2="293.40" y2="256.30" stroke="#333" stroke-width="0.6"/>
<rect x="289.40" y="258.33" width="5.60" height="29.07" fill="#fff" stroke="#000" stroke-width="0.6"/>
<line x1="307.55" y1="287.40" x2="307.55" y2="289.40" stroke="#333" stroke-width="0.7"/>
<line x1="304.00" y1="260.70" x2="304.00" y2="262.73" stroke="#333" stroke-width="0.6"/>
<line x1="302.80" y1="260.70" x2="305.20" y2="260.70" stroke="#333" stroke-width="0.6"/>
<rect x="301.20" y="262.73" width="5.60" height="24.67" fill="#000" stroke="#000" stroke-width="0.6"/>
<line x1="311.10" y1="261.04" x2="311.10" y2="263.06" stroke="#333" stroke-width="0.6"/>
<line x1="309.90" y1="261.04" x2="312.30" y2="261.04" stroke="#333" stroke-width="0.6"/>
<rect x="308.30" y="263.06" width="5.60" height="24.34" fill="#fff" stroke="#000" stroke-width="0.6"/>
<text transform="translate(237.90,261.00) rotate(-90) scale(0.5300)" font-size="10" text-anchor="middle" fill="#1a1a1a"  stroke="#1a1a1a" stroke-width="0.28">p62/Actin (fold increase)</text>
<text transform="translate(269.60,296.30) scale(0.5600)" font-size="10" text-anchor="middle" fill="#1a1a1a"  stroke="#1a1a1a" stroke-width="0.28">4</text>
<text transform="translate(288.00,296.30) scale(0.5600)" font-size="10" text-anchor="middle" fill="#1a1a1a"  stroke="#1a1a1a" stroke-width="0.28">12</text>
<text transform="translate(311.00,296.30) scale(0.5600)" font-size="10" text-anchor="middle" fill="#1a1a1a"  stroke="#1a1a1a" stroke-width="0.28">24 (hr)</text>
<rect x="314.20" y="228.20" width="8.50" height="2.80" fill="#000" />
<rect x="314.40" y="236.90" width="8.10" height="2.60" fill="#fff" stroke="#000" stroke-width="0.6"/>
<text transform="translate(323.80,231.40) scale(0.5600)" font-size="10" text-anchor="start" fill="#1a1a1a"  stroke="#1a1a1a" stroke-width="0.28">CTRL</text>
<text transform="translate(323.80,240.20) scale(0.5600)" font-size="10" text-anchor="start" fill="#1a1a1a"  stroke="#1a1a1a" stroke-width="0.28">Zinc</text></svg>
</body></html>
